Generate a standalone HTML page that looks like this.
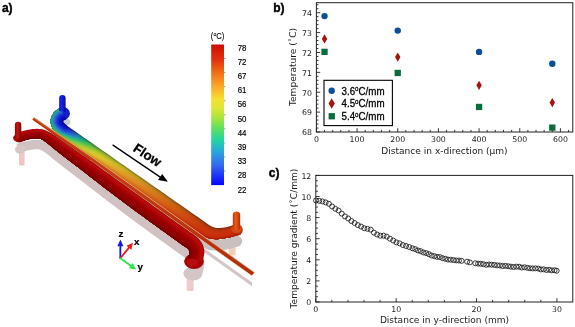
<!DOCTYPE html>
<html><head><meta charset="utf-8"><title>Figure</title>
<style>
html,body{margin:0;padding:0;background:#fff;}
body{width:575px;height:327px;overflow:hidden;position:relative;font-family:"Liberation Sans",sans-serif;}
svg{position:absolute;left:0;top:0;display:block}
.dj{font-family:"DejaVu Sans","Liberation Sans",sans-serif;}
.lib{font-family:"Liberation Sans",sans-serif;}
</style></head><body>
<svg width="575" height="327" viewBox="0 0 575 327">
<rect width="575" height="327" fill="#fff"/>

<g class="lib" font-weight="bold" font-size="12px" fill="#000" stroke="#000" stroke-width="0.4">
<text x="1.9" y="11.8">a)</text><text x="273.2" y="12">b)</text><text x="268.8" y="177">c)</text></g>
<rect x="316.4" y="2.7" width="256.4" height="129.3" fill="none" stroke="#222" stroke-width="1"/>
<path d="M316.40,132.0v-3.8M357.07,132.0v-3.8M397.74,132.0v-3.8M438.41,132.0v-3.8M479.08,132.0v-3.8M519.75,132.0v-3.8M560.42,132.0v-3.8M324.53,132.0v-2.1M332.67,132.0v-2.1M340.80,132.0v-2.1M348.94,132.0v-2.1M365.20,132.0v-2.1M373.34,132.0v-2.1M381.47,132.0v-2.1M389.61,132.0v-2.1M405.87,132.0v-2.1M414.01,132.0v-2.1M422.14,132.0v-2.1M430.28,132.0v-2.1M446.54,132.0v-2.1M454.68,132.0v-2.1M462.81,132.0v-2.1M470.95,132.0v-2.1M487.21,132.0v-2.1M495.35,132.0v-2.1M503.48,132.0v-2.1M511.62,132.0v-2.1M527.88,132.0v-2.1M536.02,132.0v-2.1M544.15,132.0v-2.1M552.29,132.0v-2.1M568.55,132.0v-2.1M316.4,132.00h3.8M316.4,112.12h3.8M316.4,92.24h3.8M316.4,72.36h3.8M316.4,52.48h3.8M316.4,32.60h3.8M316.4,12.72h3.8M316.4,128.02h2.1M316.4,124.05h2.1M316.4,120.07h2.1M316.4,116.10h2.1M316.4,108.14h2.1M316.4,104.17h2.1M316.4,100.19h2.1M316.4,96.22h2.1M316.4,88.26h2.1M316.4,84.29h2.1M316.4,80.31h2.1M316.4,76.34h2.1M316.4,68.38h2.1M316.4,64.41h2.1M316.4,60.43h2.1M316.4,56.46h2.1M316.4,48.50h2.1M316.4,44.53h2.1M316.4,40.55h2.1M316.4,36.58h2.1M316.4,28.62h2.1M316.4,24.65h2.1M316.4,20.67h2.1M316.4,16.70h2.1M316.4,8.74h2.1M316.4,4.77h2.1" stroke="#222" stroke-width="0.9" fill="none"/>
<g class="dj" font-size="7.8px" fill="#1c1c1c">
<text x="316.40" y="142.4" text-anchor="middle">0</text>
<text x="357.07" y="142.4" text-anchor="middle">100</text>
<text x="397.74" y="142.4" text-anchor="middle">200</text>
<text x="438.41" y="142.4" text-anchor="middle">300</text>
<text x="479.08" y="142.4" text-anchor="middle">400</text>
<text x="519.75" y="142.4" text-anchor="middle">500</text>
<text x="560.42" y="142.4" text-anchor="middle">600</text>
<text x="311.9" y="135.30" text-anchor="end">68</text>
<text x="311.9" y="115.42" text-anchor="end">69</text>
<text x="311.9" y="95.54" text-anchor="end">70</text>
<text x="311.9" y="75.66" text-anchor="end">71</text>
<text x="311.9" y="55.78" text-anchor="end">72</text>
<text x="311.9" y="35.90" text-anchor="end">73</text>
<text x="311.9" y="16.02" text-anchor="end">74</text>
</g>
<g class="dj" font-size="9.05px" fill="#1c1c1c">
<text x="444.5" y="153.5" text-anchor="middle">Distance in x-direction (μm)</text>
<text transform="translate(295.9,66.9) rotate(-90)" text-anchor="middle">Temperature (˚C)</text>
</g>
<circle cx="324.53" cy="16.10" r="3.2" fill="#0b4f9c"/>
<circle cx="397.74" cy="30.61" r="3.2" fill="#0b4f9c"/>
<circle cx="479.08" cy="51.88" r="3.2" fill="#0b4f9c"/>
<circle cx="552.29" cy="63.81" r="3.2" fill="#0b4f9c"/>
<path d="M324.53,34.36L327.23,38.96L324.53,43.56L321.83,38.96Z" fill="#a3130f"/>
<path d="M397.74,52.45L400.44,57.05L397.74,61.65L395.04,57.05Z" fill="#a3130f"/>
<path d="M479.08,80.68L481.78,85.28L479.08,89.88L476.38,85.28Z" fill="#a3130f"/>
<path d="M552.29,97.98L554.99,102.58L552.29,107.18L549.59,102.58Z" fill="#a3130f"/>
<rect x="321.38" y="48.73" width="6.3" height="6.3" fill="#0a6e3c"/>
<rect x="394.59" y="69.81" width="6.3" height="6.3" fill="#0a6e3c"/>
<rect x="475.93" y="103.80" width="6.3" height="6.3" fill="#0a6e3c"/>
<rect x="549.14" y="124.48" width="6.3" height="6.3" fill="#0a6e3c"/>
<rect x="324" y="80.3" width="68.4" height="45.3" fill="#fff" stroke="#000" stroke-width="1.1"/>
<circle cx="331.7" cy="90.8" r="3.2" fill="#0b4f9c"/><path d="M331.70,98.30L334.80,103.50L331.70,108.70L328.60,103.50Z" fill="#a3130f"/><rect x="328.6" y="113.1" width="6.3" height="6.3" fill="#0a6e3c"/>
<g class="lib" font-size="10.3px" fill="#000">
<text transform="translate(341.5,94.5) scale(0.95,1)" stroke="#000" stroke-width="0.28">3.6<tspan font-size="6.5px" dy="-3.2">o</tspan><tspan dy="3.2">C/mm</tspan></text>
<text transform="translate(341.5,107.1) scale(0.95,1)" stroke="#000" stroke-width="0.28">4.5<tspan font-size="6.5px" dy="-3.2">o</tspan><tspan dy="3.2">C/mm</tspan></text>
<text transform="translate(341.5,119.9) scale(0.95,1)" stroke="#000" stroke-width="0.28">5.4<tspan font-size="6.5px" dy="-3.2">o</tspan><tspan dy="3.2">C/mm</tspan></text>
</g>
<rect x="315.8" y="175.4" width="256.99999999999994" height="126.6" fill="none" stroke="#222" stroke-width="1"/>
<path d="M315.80,302.0v-3.8M396.17,302.0v-3.8M476.54,302.0v-3.8M556.91,302.0v-3.8M331.87,302.0v-2.1M347.95,302.0v-2.1M364.02,302.0v-2.1M380.10,302.0v-2.1M412.24,302.0v-2.1M428.32,302.0v-2.1M444.39,302.0v-2.1M460.47,302.0v-2.1M492.61,302.0v-2.1M508.69,302.0v-2.1M524.76,302.0v-2.1M540.84,302.0v-2.1M315.8,302.00h3.8M315.8,280.90h3.8M315.8,259.80h3.8M315.8,238.70h3.8M315.8,217.60h3.8M315.8,196.50h3.8M315.8,175.40h3.8M315.8,296.73h2.1M315.8,291.45h2.1M315.8,286.18h2.1M315.8,275.62h2.1M315.8,270.35h2.1M315.8,265.07h2.1M315.8,254.53h2.1M315.8,249.25h2.1M315.8,243.97h2.1M315.8,233.43h2.1M315.8,228.15h2.1M315.8,222.88h2.1M315.8,212.32h2.1M315.8,207.05h2.1M315.8,201.77h2.1M315.8,191.22h2.1M315.8,185.95h2.1M315.8,180.68h2.1" stroke="#222" stroke-width="0.9" fill="none"/>
<g class="dj" font-size="7.8px" fill="#1c1c1c">
<text x="315.80" y="312.4" text-anchor="middle">0</text>
<text x="396.17" y="312.4" text-anchor="middle">10</text>
<text x="476.54" y="312.4" text-anchor="middle">20</text>
<text x="556.91" y="312.4" text-anchor="middle">30</text>
<text x="311.3" y="305.30" text-anchor="end">0</text>
<text x="311.3" y="284.20" text-anchor="end">2</text>
<text x="311.3" y="263.10" text-anchor="end">4</text>
<text x="311.3" y="242.00" text-anchor="end">6</text>
<text x="311.3" y="220.90" text-anchor="end">8</text>
<text x="311.3" y="199.80" text-anchor="end">10</text>
<text x="311.3" y="178.70" text-anchor="end">12</text>
</g>
<g class="dj" font-size="9.05px" fill="#1c1c1c">
<text x="444.5" y="323.2" text-anchor="middle">Distance in y-direction (mm)</text>
<text transform="translate(296.5,238.5) rotate(-90)" text-anchor="middle">Temperature gradient (˚C/mm)</text>
</g>
<g fill="none" stroke="#1a1a1a" stroke-width="0.85">
<circle cx="316.04" cy="200.53" r="2.5"/>
<circle cx="319.26" cy="200.78" r="2.5"/>
<circle cx="322.47" cy="201.43" r="2.5"/>
<circle cx="325.69" cy="202.42" r="2.5"/>
<circle cx="328.90" cy="203.77" r="2.5"/>
<circle cx="332.12" cy="206.49" r="2.5"/>
<circle cx="335.33" cy="208.83" r="2.5"/>
<circle cx="338.54" cy="210.52" r="2.5"/>
<circle cx="341.76" cy="213.63" r="2.5"/>
<circle cx="344.97" cy="216.38" r="2.5"/>
<circle cx="348.19" cy="218.47" r="2.5"/>
<circle cx="351.40" cy="221.08" r="2.5"/>
<circle cx="354.62" cy="223.03" r="2.5"/>
<circle cx="357.83" cy="225.05" r="2.5"/>
<circle cx="361.05" cy="226.57" r="2.5"/>
<circle cx="364.26" cy="228.27" r="2.5"/>
<circle cx="367.48" cy="228.84" r="2.5"/>
<circle cx="370.69" cy="229.63" r="2.5"/>
<circle cx="373.91" cy="232.63" r="2.5"/>
<circle cx="377.12" cy="234.50" r="2.5"/>
<circle cx="380.34" cy="235.74" r="2.5"/>
<circle cx="383.55" cy="235.67" r="2.5"/>
<circle cx="386.77" cy="236.64" r="2.5"/>
<circle cx="389.98" cy="238.73" r="2.5"/>
<circle cx="393.20" cy="240.56" r="2.5"/>
<circle cx="396.41" cy="242.37" r="2.5"/>
<circle cx="399.63" cy="243.36" r="2.5"/>
<circle cx="402.84" cy="245.02" r="2.5"/>
<circle cx="406.06" cy="246.00" r="2.5"/>
<circle cx="409.27" cy="247.03" r="2.5"/>
<circle cx="412.49" cy="248.30" r="2.5"/>
<circle cx="415.22" cy="249.11" r="2.5"/>
<circle cx="417.95" cy="250.47" r="2.5"/>
<circle cx="420.68" cy="251.16" r="2.5"/>
<circle cx="423.42" cy="252.44" r="2.5"/>
<circle cx="426.15" cy="253.10" r="2.5"/>
<circle cx="428.88" cy="254.16" r="2.5"/>
<circle cx="431.61" cy="255.49" r="2.5"/>
<circle cx="434.35" cy="256.20" r="2.5"/>
<circle cx="437.08" cy="256.87" r="2.5"/>
<circle cx="439.81" cy="257.05" r="2.5"/>
<circle cx="442.54" cy="258.18" r="2.5"/>
<circle cx="445.28" cy="258.77" r="2.5"/>
<circle cx="448.01" cy="259.55" r="2.5"/>
<circle cx="450.74" cy="259.70" r="2.5"/>
<circle cx="453.47" cy="260.09" r="2.5"/>
<circle cx="456.21" cy="260.41" r="2.5"/>
<circle cx="458.94" cy="260.54" r="2.5"/>
<circle cx="461.67" cy="260.87" r="2.5"/>
<circle cx="467.14" cy="261.69" r="2.5"/>
<circle cx="469.87" cy="262.38" r="2.5"/>
<circle cx="475.33" cy="263.26" r="2.5"/>
<circle cx="478.07" cy="263.67" r="2.5"/>
<circle cx="480.80" cy="263.78" r="2.5"/>
<circle cx="483.53" cy="264.23" r="2.5"/>
<circle cx="486.26" cy="264.82" r="2.5"/>
<circle cx="489.00" cy="264.52" r="2.5"/>
<circle cx="491.73" cy="264.66" r="2.5"/>
<circle cx="494.46" cy="264.92" r="2.5"/>
<circle cx="497.20" cy="265.38" r="2.5"/>
<circle cx="499.93" cy="265.49" r="2.5"/>
<circle cx="502.66" cy="266.08" r="2.5"/>
<circle cx="505.39" cy="265.84" r="2.5"/>
<circle cx="508.13" cy="266.24" r="2.5"/>
<circle cx="510.86" cy="266.66" r="2.5"/>
<circle cx="513.59" cy="267.02" r="2.5"/>
<circle cx="516.32" cy="266.63" r="2.5"/>
<circle cx="519.06" cy="266.73" r="2.5"/>
<circle cx="521.79" cy="267.59" r="2.5"/>
<circle cx="524.52" cy="267.26" r="2.5"/>
<circle cx="527.25" cy="267.81" r="2.5"/>
<circle cx="529.99" cy="268.27" r="2.5"/>
<circle cx="532.72" cy="268.44" r="2.5"/>
<circle cx="535.45" cy="268.36" r="2.5"/>
<circle cx="538.18" cy="268.55" r="2.5"/>
<circle cx="540.92" cy="269.43" r="2.5"/>
<circle cx="543.65" cy="269.29" r="2.5"/>
<circle cx="546.38" cy="270.00" r="2.5"/>
<circle cx="549.11" cy="269.79" r="2.5"/>
<circle cx="551.85" cy="270.37" r="2.5"/>
<circle cx="554.58" cy="270.25" r="2.5"/>
<circle cx="556.67" cy="270.77" r="2.5"/>
</g>
<defs><linearGradient id="cb" x1="0" y1="0" x2="0" y2="1">
<stop offset="0.000" stop-color="#cc0c04"/><stop offset="0.110" stop-color="#e2320c"/><stop offset="0.200" stop-color="#f06e16"/><stop offset="0.300" stop-color="#faaa28"/><stop offset="0.390" stop-color="#f6e030"/><stop offset="0.450" stop-color="#dee634"/><stop offset="0.520" stop-color="#a8e63c"/><stop offset="0.600" stop-color="#5ae060"/><stop offset="0.680" stop-color="#22d4a0"/><stop offset="0.760" stop-color="#28a8dc"/><stop offset="0.860" stop-color="#3468f0"/><stop offset="1.000" stop-color="#0404fc"/></linearGradient></defs>
<rect x="211.2" y="44.5" width="12.8" height="140.6" fill="url(#cb)"/>
<g class="lib" font-size="9.2px" fill="#000" stroke="#000" stroke-width="0.2">
<text transform="translate(217.6,39.2) scale(0.86,1)" text-anchor="middle" font-size="9px" stroke-width="0.1">(<tspan font-size="6px" dy="-3">o</tspan><tspan dy="3">C)</tspan></text>
<text transform="translate(237.7,50.50) scale(0.85,1)">78</text>
<text transform="translate(237.7,64.70) scale(0.85,1)">72</text>
<text transform="translate(237.7,78.90) scale(0.85,1)">67</text>
<text transform="translate(237.7,93.10) scale(0.85,1)">61</text>
<text transform="translate(237.7,107.30) scale(0.85,1)">56</text>
<text transform="translate(237.7,121.50) scale(0.85,1)">50</text>
<text transform="translate(237.7,135.70) scale(0.85,1)">44</text>
<text transform="translate(237.7,149.90) scale(0.85,1)">39</text>
<text transform="translate(237.7,164.10) scale(0.85,1)">33</text>
<text transform="translate(237.7,178.30) scale(0.85,1)">28</text>
<text transform="translate(237.7,192.50) scale(0.85,1)">22</text>
</g>
<path d="M224,58.56h1.4M224,72.62h1.4M224,86.68h1.4M224,100.74h1.4M224,114.80h1.4M224,128.86h1.4M224,142.92h1.4M224,156.98h1.4M224,171.04h1.4" stroke="#555" stroke-width="0.6"/>
<defs><filter id="bl1" x="-5%" y="-5%" width="110%" height="110%"><feGaussianBlur stdDeviation="0.6"/></filter><linearGradient id="g1" gradientUnits="userSpaceOnUse" x1="80.21" y1="56.07" x2="284.33" y2="198.75"><stop offset="0.0000" stop-color="#02028c"/><stop offset="0.0294" stop-color="#02028c"/><stop offset="0.0588" stop-color="#03038c"/><stop offset="0.0882" stop-color="#04068b"/><stop offset="0.1176" stop-color="#06098b"/><stop offset="0.1471" stop-color="#172d87"/><stop offset="0.1765" stop-color="#17597b"/><stop offset="0.2059" stop-color="#13735c"/><stop offset="0.2353" stop-color="#297a3f"/><stop offset="0.2647" stop-color="#407d2f"/><stop offset="0.2941" stop-color="#577f24"/><stop offset="0.3235" stop-color="#668020"/><stop offset="0.3529" stop-color="#73801e"/><stop offset="0.3824" stop-color="#7d7f1d"/><stop offset="0.4118" stop-color="#837e1c"/><stop offset="0.4412" stop-color="#887c1b"/><stop offset="0.4706" stop-color="#89761a"/><stop offset="0.5000" stop-color="#8a6f19"/><stop offset="0.5294" stop-color="#8a6818"/><stop offset="0.5588" stop-color="#8b6117"/><stop offset="0.5882" stop-color="#8a5a15"/><stop offset="0.6176" stop-color="#895313"/><stop offset="0.6471" stop-color="#884c11"/><stop offset="0.6765" stop-color="#87450f"/><stop offset="0.7059" stop-color="#853e0d"/><stop offset="0.7353" stop-color="#84380b"/><stop offset="0.7647" stop-color="#83320a"/><stop offset="0.7941" stop-color="#812d09"/><stop offset="0.8235" stop-color="#812b09"/><stop offset="0.8529" stop-color="#812909"/><stop offset="0.8824" stop-color="#802709"/><stop offset="0.9118" stop-color="#802608"/><stop offset="0.9412" stop-color="#7f2408"/><stop offset="0.9706" stop-color="#7f2208"/><stop offset="1.0000" stop-color="#7f2007"/></linearGradient><linearGradient id="g2" gradientUnits="userSpaceOnUse" x1="80.21" y1="56.07" x2="284.33" y2="198.75"><stop offset="0.0000" stop-color="#0303af"/><stop offset="0.0294" stop-color="#0303af"/><stop offset="0.0588" stop-color="#0405af"/><stop offset="0.0882" stop-color="#0609ae"/><stop offset="0.1176" stop-color="#080dae"/><stop offset="0.1471" stop-color="#1d3aa9"/><stop offset="0.1765" stop-color="#1c719a"/><stop offset="0.2059" stop-color="#189370"/><stop offset="0.2353" stop-color="#389a4a"/><stop offset="0.2647" stop-color="#5b9e36"/><stop offset="0.2941" stop-color="#7ba029"/><stop offset="0.3235" stop-color="#8ba026"/><stop offset="0.3529" stop-color="#9aa024"/><stop offset="0.3824" stop-color="#a29e23"/><stop offset="0.4118" stop-color="#a99c22"/><stop offset="0.4412" stop-color="#ab9620"/><stop offset="0.4706" stop-color="#ac8d1f"/><stop offset="0.5000" stop-color="#ad851e"/><stop offset="0.5294" stop-color="#ad7d1d"/><stop offset="0.5588" stop-color="#ad741b"/><stop offset="0.5882" stop-color="#ac6c19"/><stop offset="0.6176" stop-color="#ab6416"/><stop offset="0.6471" stop-color="#a95c14"/><stop offset="0.6765" stop-color="#a85311"/><stop offset="0.7059" stop-color="#a64b0f"/><stop offset="0.7353" stop-color="#a5430e"/><stop offset="0.7647" stop-color="#a33b0c"/><stop offset="0.7941" stop-color="#a1360b"/><stop offset="0.8235" stop-color="#a1330b"/><stop offset="0.8529" stop-color="#a0310b"/><stop offset="0.8824" stop-color="#a02f0a"/><stop offset="0.9118" stop-color="#9f2d0a"/><stop offset="0.9412" stop-color="#9f2b0a"/><stop offset="0.9706" stop-color="#9e2909"/><stop offset="1.0000" stop-color="#9e2609"/></linearGradient><linearGradient id="g3" gradientUnits="userSpaceOnUse" x1="80.21" y1="56.07" x2="284.33" y2="198.75"><stop offset="0.0000" stop-color="#0405c3"/><stop offset="0.0294" stop-color="#0406c3"/><stop offset="0.0588" stop-color="#0507c3"/><stop offset="0.0882" stop-color="#080dc3"/><stop offset="0.1176" stop-color="#0b13c2"/><stop offset="0.1471" stop-color="#2346bc"/><stop offset="0.1765" stop-color="#1f84a9"/><stop offset="0.2059" stop-color="#20a675"/><stop offset="0.2353" stop-color="#48ae49"/><stop offset="0.2647" stop-color="#75b235"/><stop offset="0.2941" stop-color="#98b32b"/><stop offset="0.3235" stop-color="#a9b329"/><stop offset="0.3529" stop-color="#b3b127"/><stop offset="0.3824" stop-color="#bbaf26"/><stop offset="0.4118" stop-color="#bfa925"/><stop offset="0.4412" stop-color="#c09f23"/><stop offset="0.4706" stop-color="#c19622"/><stop offset="0.5000" stop-color="#c18d20"/><stop offset="0.5294" stop-color="#c2851f"/><stop offset="0.5588" stop-color="#c17c1d"/><stop offset="0.5882" stop-color="#bf731a"/><stop offset="0.6176" stop-color="#be6a17"/><stop offset="0.6471" stop-color="#bc6215"/><stop offset="0.6765" stop-color="#bb5912"/><stop offset="0.7059" stop-color="#b95010"/><stop offset="0.7353" stop-color="#b7470f"/><stop offset="0.7647" stop-color="#b53f0d"/><stop offset="0.7941" stop-color="#b4390c"/><stop offset="0.8235" stop-color="#b3370c"/><stop offset="0.8529" stop-color="#b3340c"/><stop offset="0.8824" stop-color="#b2320b"/><stop offset="0.9118" stop-color="#b2300b"/><stop offset="0.9412" stop-color="#b12d0a"/><stop offset="0.9706" stop-color="#b02b0a"/><stop offset="1.0000" stop-color="#b0290a"/></linearGradient><linearGradient id="g4" gradientUnits="userSpaceOnUse" x1="80.21" y1="56.07" x2="284.33" y2="198.75"><stop offset="0.0000" stop-color="#070bcf"/><stop offset="0.0294" stop-color="#070bcf"/><stop offset="0.0588" stop-color="#080ecf"/><stop offset="0.0882" stop-color="#0c15ce"/><stop offset="0.1176" stop-color="#101ecd"/><stop offset="0.1471" stop-color="#2b55c6"/><stop offset="0.1765" stop-color="#2095a8"/><stop offset="0.2059" stop-color="#2fb36f"/><stop offset="0.2353" stop-color="#5fbb46"/><stop offset="0.2647" stop-color="#8fbe31"/><stop offset="0.2941" stop-color="#b3be2c"/><stop offset="0.3235" stop-color="#bebc2a"/><stop offset="0.3529" stop-color="#c6ba29"/><stop offset="0.3824" stop-color="#cbb527"/><stop offset="0.4118" stop-color="#ccaa25"/><stop offset="0.4412" stop-color="#cda024"/><stop offset="0.4706" stop-color="#ce9723"/><stop offset="0.5000" stop-color="#ce8e21"/><stop offset="0.5294" stop-color="#cd851f"/><stop offset="0.5588" stop-color="#cc7d1c"/><stop offset="0.5882" stop-color="#ca741a"/><stop offset="0.6176" stop-color="#c96b17"/><stop offset="0.6471" stop-color="#c76314"/><stop offset="0.6765" stop-color="#c65a12"/><stop offset="0.7059" stop-color="#c45010"/><stop offset="0.7353" stop-color="#c2480f"/><stop offset="0.7647" stop-color="#c0400e"/><stop offset="0.7941" stop-color="#be3a0d"/><stop offset="0.8235" stop-color="#be370c"/><stop offset="0.8529" stop-color="#bd350c"/><stop offset="0.8824" stop-color="#bd320b"/><stop offset="0.9118" stop-color="#bc300b"/><stop offset="0.9412" stop-color="#bc2d0b"/><stop offset="0.9706" stop-color="#bb2b0a"/><stop offset="1.0000" stop-color="#ba290a"/></linearGradient><linearGradient id="g5" gradientUnits="userSpaceOnUse" x1="80.21" y1="56.07" x2="284.33" y2="198.75"><stop offset="0.0000" stop-color="#0c15d7"/><stop offset="0.0294" stop-color="#0c16d6"/><stop offset="0.0588" stop-color="#0e19d6"/><stop offset="0.0882" stop-color="#1324d5"/><stop offset="0.1176" stop-color="#1930d3"/><stop offset="0.1471" stop-color="#2a68ca"/><stop offset="0.1765" stop-color="#1fa79e"/><stop offset="0.2059" stop-color="#41be61"/><stop offset="0.2353" stop-color="#7ac43e"/><stop offset="0.2647" stop-color="#a7c630"/><stop offset="0.2941" stop-color="#c5c42c"/><stop offset="0.3235" stop-color="#cec22a"/><stop offset="0.3529" stop-color="#d4be29"/><stop offset="0.3824" stop-color="#d5b227"/><stop offset="0.4118" stop-color="#d5a725"/><stop offset="0.4412" stop-color="#d69e24"/><stop offset="0.4706" stop-color="#d79523"/><stop offset="0.5000" stop-color="#d68c21"/><stop offset="0.5294" stop-color="#d5831e"/><stop offset="0.5588" stop-color="#d37b1b"/><stop offset="0.5882" stop-color="#d27219"/><stop offset="0.6176" stop-color="#d06a16"/><stop offset="0.6471" stop-color="#cf6114"/><stop offset="0.6765" stop-color="#cd5912"/><stop offset="0.7059" stop-color="#cb4f10"/><stop offset="0.7353" stop-color="#c9470f"/><stop offset="0.7647" stop-color="#c73f0e"/><stop offset="0.7941" stop-color="#c6390d"/><stop offset="0.8235" stop-color="#c5360c"/><stop offset="0.8529" stop-color="#c4340c"/><stop offset="0.8824" stop-color="#c4320b"/><stop offset="0.9118" stop-color="#c32f0b"/><stop offset="0.9412" stop-color="#c32d0b"/><stop offset="0.9706" stop-color="#c22b0a"/><stop offset="1.0000" stop-color="#c1290a"/></linearGradient><linearGradient id="g6" gradientUnits="userSpaceOnUse" x1="80.21" y1="56.07" x2="284.33" y2="198.75"><stop offset="0.0000" stop-color="#1425da"/><stop offset="0.0294" stop-color="#1527da"/><stop offset="0.0588" stop-color="#172bd9"/><stop offset="0.0882" stop-color="#1d3ad7"/><stop offset="0.1176" stop-color="#254ad5"/><stop offset="0.1471" stop-color="#2781c8"/><stop offset="0.1765" stop-color="#20bb8b"/><stop offset="0.2059" stop-color="#59c650"/><stop offset="0.2353" stop-color="#96ca35"/><stop offset="0.2647" stop-color="#bdca2f"/><stop offset="0.2941" stop-color="#d3c72b"/><stop offset="0.3235" stop-color="#d9c22a"/><stop offset="0.3529" stop-color="#dab728"/><stop offset="0.3824" stop-color="#daac27"/><stop offset="0.4118" stop-color="#dba125"/><stop offset="0.4412" stop-color="#dc9824"/><stop offset="0.4706" stop-color="#db9021"/><stop offset="0.5000" stop-color="#da871f"/><stop offset="0.5294" stop-color="#d87f1c"/><stop offset="0.5588" stop-color="#d7771a"/><stop offset="0.5882" stop-color="#d56e17"/><stop offset="0.6176" stop-color="#d46715"/><stop offset="0.6471" stop-color="#d35e13"/><stop offset="0.6765" stop-color="#d15612"/><stop offset="0.7059" stop-color="#cf4d10"/><stop offset="0.7353" stop-color="#cd450f"/><stop offset="0.7647" stop-color="#cb3d0d"/><stop offset="0.7941" stop-color="#ca370c"/><stop offset="0.8235" stop-color="#c9350c"/><stop offset="0.8529" stop-color="#c8320c"/><stop offset="0.8824" stop-color="#c8300b"/><stop offset="0.9118" stop-color="#c72e0b"/><stop offset="0.9412" stop-color="#c72c0a"/><stop offset="0.9706" stop-color="#c62a0a"/><stop offset="1.0000" stop-color="#c5290a"/></linearGradient><linearGradient id="g7" gradientUnits="userSpaceOnUse" x1="80.21" y1="56.07" x2="284.33" y2="198.75"><stop offset="0.0000" stop-color="#1f3ddc"/><stop offset="0.0294" stop-color="#2140dc"/><stop offset="0.0588" stop-color="#2346db"/><stop offset="0.0882" stop-color="#2c58d9"/><stop offset="0.1176" stop-color="#2c6bd4"/><stop offset="0.1471" stop-color="#239fbb"/><stop offset="0.1765" stop-color="#3bc56f"/><stop offset="0.2059" stop-color="#7bcd43"/><stop offset="0.2353" stop-color="#b0cf32"/><stop offset="0.2647" stop-color="#cfcd2e"/><stop offset="0.2941" stop-color="#dec52a"/><stop offset="0.3235" stop-color="#dfba29"/><stop offset="0.3529" stop-color="#dfaf27"/><stop offset="0.3824" stop-color="#e0a526"/><stop offset="0.4118" stop-color="#e19b24"/><stop offset="0.4412" stop-color="#e09222"/><stop offset="0.4706" stop-color="#df8a20"/><stop offset="0.5000" stop-color="#dd821d"/><stop offset="0.5294" stop-color="#dc7a1b"/><stop offset="0.5588" stop-color="#db7318"/><stop offset="0.5882" stop-color="#d96b16"/><stop offset="0.6176" stop-color="#d86314"/><stop offset="0.6471" stop-color="#d65b12"/><stop offset="0.6765" stop-color="#d45311"/><stop offset="0.7059" stop-color="#d24a10"/><stop offset="0.7353" stop-color="#d0430e"/><stop offset="0.7647" stop-color="#cf3b0d"/><stop offset="0.7941" stop-color="#cd360c"/><stop offset="0.8235" stop-color="#cd330c"/><stop offset="0.8529" stop-color="#cc310b"/><stop offset="0.8824" stop-color="#cc2e0b"/><stop offset="0.9118" stop-color="#cb2c0b"/><stop offset="0.9412" stop-color="#ca2b0a"/><stop offset="0.9706" stop-color="#ca2a0a"/><stop offset="1.0000" stop-color="#c9290a"/></linearGradient><linearGradient id="g8" gradientUnits="userSpaceOnUse" x1="80.21" y1="56.07" x2="284.33" y2="198.75"><stop offset="0.0000" stop-color="#2e5bd6"/><stop offset="0.0294" stop-color="#2e5fd5"/><stop offset="0.0588" stop-color="#2d66d3"/><stop offset="0.0882" stop-color="#297acd"/><stop offset="0.1176" stop-color="#2590c6"/><stop offset="0.1471" stop-color="#1ebc8f"/><stop offset="0.1765" stop-color="#5dc84f"/><stop offset="0.2059" stop-color="#9dcd34"/><stop offset="0.2353" stop-color="#c6cd2e"/><stop offset="0.2647" stop-color="#d7c82b"/><stop offset="0.2941" stop-color="#dcb628"/><stop offset="0.3235" stop-color="#ddac27"/><stop offset="0.3529" stop-color="#dea225"/><stop offset="0.3824" stop-color="#de9924"/><stop offset="0.4118" stop-color="#dd9021"/><stop offset="0.4412" stop-color="#dc881f"/><stop offset="0.4706" stop-color="#db811d"/><stop offset="0.5000" stop-color="#d9791b"/><stop offset="0.5294" stop-color="#d87218"/><stop offset="0.5588" stop-color="#d76b16"/><stop offset="0.5882" stop-color="#d66314"/><stop offset="0.6176" stop-color="#d45c13"/><stop offset="0.6471" stop-color="#d25411"/><stop offset="0.6765" stop-color="#d14d10"/><stop offset="0.7059" stop-color="#cf450f"/><stop offset="0.7353" stop-color="#cd3e0e"/><stop offset="0.7647" stop-color="#cc380d"/><stop offset="0.7941" stop-color="#ca320c"/><stop offset="0.8235" stop-color="#ca300b"/><stop offset="0.8529" stop-color="#c92e0b"/><stop offset="0.8824" stop-color="#c92c0b"/><stop offset="0.9118" stop-color="#c82b0a"/><stop offset="0.9412" stop-color="#c7290a"/><stop offset="0.9706" stop-color="#c7280a"/><stop offset="1.0000" stop-color="#c6270a"/></linearGradient><linearGradient id="g9" gradientUnits="userSpaceOnUse" x1="80.21" y1="56.07" x2="284.33" y2="198.75"><stop offset="0.0000" stop-color="#2879ca"/><stop offset="0.0294" stop-color="#277ec9"/><stop offset="0.0588" stop-color="#2686c6"/><stop offset="0.0882" stop-color="#229bb8"/><stop offset="0.1176" stop-color="#1fb19a"/><stop offset="0.1471" stop-color="#45c360"/><stop offset="0.1765" stop-color="#88ca3b"/><stop offset="0.2059" stop-color="#b7cb30"/><stop offset="0.2353" stop-color="#d0c82c"/><stop offset="0.2647" stop-color="#d9bd29"/><stop offset="0.2941" stop-color="#dba926"/><stop offset="0.3235" stop-color="#dca025"/><stop offset="0.3529" stop-color="#dc9723"/><stop offset="0.3824" stop-color="#db8f21"/><stop offset="0.4118" stop-color="#da871f"/><stop offset="0.4412" stop-color="#d97f1c"/><stop offset="0.4706" stop-color="#d7781a"/><stop offset="0.5000" stop-color="#d67218"/><stop offset="0.5294" stop-color="#d56b16"/><stop offset="0.5588" stop-color="#d46414"/><stop offset="0.5882" stop-color="#d35d13"/><stop offset="0.6176" stop-color="#d15612"/><stop offset="0.6471" stop-color="#cf4f10"/><stop offset="0.6765" stop-color="#ce480f"/><stop offset="0.7059" stop-color="#cc410e"/><stop offset="0.7353" stop-color="#cb3b0d"/><stop offset="0.7647" stop-color="#c9340c"/><stop offset="0.7941" stop-color="#c82f0b"/><stop offset="0.8235" stop-color="#c72d0b"/><stop offset="0.8529" stop-color="#c72b0a"/><stop offset="0.8824" stop-color="#c62a0a"/><stop offset="0.9118" stop-color="#c5290a"/><stop offset="0.9412" stop-color="#c5280a"/><stop offset="0.9706" stop-color="#c42709"/><stop offset="1.0000" stop-color="#c32609"/></linearGradient><linearGradient id="g10" gradientUnits="userSpaceOnUse" x1="80.21" y1="56.07" x2="284.33" y2="198.75"><stop offset="0.0000" stop-color="#2191b4"/><stop offset="0.0294" stop-color="#2096ac"/><stop offset="0.0588" stop-color="#1f9da3"/><stop offset="0.0882" stop-color="#1db286"/><stop offset="0.1176" stop-color="#39b865"/><stop offset="0.1471" stop-color="#71bf3f"/><stop offset="0.1765" stop-color="#a3c12f"/><stop offset="0.2059" stop-color="#c1c02b"/><stop offset="0.2353" stop-color="#cfba28"/><stop offset="0.2647" stop-color="#d0a825"/><stop offset="0.2941" stop-color="#d19823"/><stop offset="0.3235" stop-color="#d29022"/><stop offset="0.3529" stop-color="#d18920"/><stop offset="0.3824" stop-color="#d0811e"/><stop offset="0.4118" stop-color="#cf7a1b"/><stop offset="0.4412" stop-color="#cd7319"/><stop offset="0.4706" stop-color="#cc6d17"/><stop offset="0.5000" stop-color="#cb6716"/><stop offset="0.5294" stop-color="#ca6114"/><stop offset="0.5588" stop-color="#c95b12"/><stop offset="0.5882" stop-color="#c85411"/><stop offset="0.6176" stop-color="#c64e10"/><stop offset="0.6471" stop-color="#c5480f"/><stop offset="0.6765" stop-color="#c3420e"/><stop offset="0.7059" stop-color="#c23b0d"/><stop offset="0.7353" stop-color="#c1360c"/><stop offset="0.7647" stop-color="#bf300b"/><stop offset="0.7941" stop-color="#be2b0a"/><stop offset="0.8235" stop-color="#be2a0a"/><stop offset="0.8529" stop-color="#bd280a"/><stop offset="0.8824" stop-color="#bc270a"/><stop offset="0.9118" stop-color="#bc2609"/><stop offset="0.9412" stop-color="#bb2509"/><stop offset="0.9706" stop-color="#ba2409"/><stop offset="1.0000" stop-color="#ba2309"/></linearGradient><linearGradient id="g11" gradientUnits="userSpaceOnUse" x1="80.21" y1="56.07" x2="284.33" y2="198.75"><stop offset="0.0000" stop-color="#1ca18b"/><stop offset="0.0294" stop-color="#1ba883"/><stop offset="0.0588" stop-color="#22ab78"/><stop offset="0.0882" stop-color="#3eb159"/><stop offset="0.1176" stop-color="#62b541"/><stop offset="0.1471" stop-color="#95b82e"/><stop offset="0.1765" stop-color="#b4b729"/><stop offset="0.2059" stop-color="#c2b427"/><stop offset="0.2353" stop-color="#c6a524"/><stop offset="0.2647" stop-color="#c79722"/><stop offset="0.2941" stop-color="#c88a20"/><stop offset="0.3235" stop-color="#c7831e"/><stop offset="0.3529" stop-color="#c67c1c"/><stop offset="0.3824" stop-color="#c5761b"/><stop offset="0.4118" stop-color="#c46f19"/><stop offset="0.4412" stop-color="#c36917"/><stop offset="0.4706" stop-color="#c26315"/><stop offset="0.5000" stop-color="#c15e13"/><stop offset="0.5294" stop-color="#c05812"/><stop offset="0.5588" stop-color="#bf5211"/><stop offset="0.5882" stop-color="#bd4c10"/><stop offset="0.6176" stop-color="#bc470f"/><stop offset="0.6471" stop-color="#bb410e"/><stop offset="0.6765" stop-color="#b93c0d"/><stop offset="0.7059" stop-color="#b8360c"/><stop offset="0.7353" stop-color="#b7310b"/><stop offset="0.7647" stop-color="#b62c0a"/><stop offset="0.7941" stop-color="#b5280a"/><stop offset="0.8235" stop-color="#b42709"/><stop offset="0.8529" stop-color="#b42609"/><stop offset="0.8824" stop-color="#b32509"/><stop offset="0.9118" stop-color="#b22409"/><stop offset="0.9412" stop-color="#b22308"/><stop offset="0.9706" stop-color="#b12208"/><stop offset="1.0000" stop-color="#b12108"/></linearGradient><linearGradient id="g12" gradientUnits="userSpaceOnUse" x1="80.21" y1="56.07" x2="284.33" y2="198.75"><stop offset="0.0000" stop-color="#26965f"/><stop offset="0.0294" stop-color="#2e9855"/><stop offset="0.0588" stop-color="#369a4c"/><stop offset="0.0882" stop-color="#569d37"/><stop offset="0.1176" stop-color="#7a9f29"/><stop offset="0.1471" stop-color="#9b9f24"/><stop offset="0.1765" stop-color="#a69c22"/><stop offset="0.2059" stop-color="#ab9320"/><stop offset="0.2353" stop-color="#ac861e"/><stop offset="0.2647" stop-color="#ad7c1d"/><stop offset="0.2941" stop-color="#ad721b"/><stop offset="0.3235" stop-color="#ac6d19"/><stop offset="0.3529" stop-color="#ab6817"/><stop offset="0.3824" stop-color="#aa6216"/><stop offset="0.4118" stop-color="#a95d14"/><stop offset="0.4412" stop-color="#a85813"/><stop offset="0.4706" stop-color="#a85311"/><stop offset="0.5000" stop-color="#a74e10"/><stop offset="0.5294" stop-color="#a64a0f"/><stop offset="0.5588" stop-color="#a5450e"/><stop offset="0.5882" stop-color="#a33f0d"/><stop offset="0.6176" stop-color="#a23b0c"/><stop offset="0.6471" stop-color="#a1370c"/><stop offset="0.6765" stop-color="#a0320b"/><stop offset="0.7059" stop-color="#9f2e0a"/><stop offset="0.7353" stop-color="#9e2909"/><stop offset="0.7647" stop-color="#9d2509"/><stop offset="0.7941" stop-color="#9c2208"/><stop offset="0.8235" stop-color="#9c2108"/><stop offset="0.8529" stop-color="#9b2008"/><stop offset="0.8824" stop-color="#9b1f08"/><stop offset="0.9118" stop-color="#9a1f07"/><stop offset="0.9412" stop-color="#9a1e07"/><stop offset="0.9706" stop-color="#991d07"/><stop offset="1.0000" stop-color="#991c07"/></linearGradient><linearGradient id="stb" x1="0" y1="0" x2="1" y2="0"><stop offset="0" stop-color="#0a10a8"/><stop offset="0.35" stop-color="#1424ee"/><stop offset="0.7" stop-color="#0c14d0"/><stop offset="1" stop-color="#060a90"/></linearGradient><linearGradient id="sto" x1="0" y1="0" x2="1" y2="0"><stop offset="0" stop-color="#b83408"/><stop offset="0.35" stop-color="#e85a1c"/><stop offset="0.7" stop-color="#d8440e"/><stop offset="1" stop-color="#a82c06"/></linearGradient><linearGradient id="strp" gradientUnits="userSpaceOnUse" x1="33" y1="117" x2="254" y2="270"><stop offset="0" stop-color="#c8420e"/><stop offset="0.5" stop-color="#c63a0c"/><stop offset="1" stop-color="#b42e08"/></linearGradient><linearGradient id="str" x1="0" y1="0" x2="1" y2="0"><stop offset="0" stop-color="#8a0404"/><stop offset="0.35" stop-color="#c81212"/><stop offset="0.7" stop-color="#aa0808"/><stop offset="1" stop-color="#7a0202"/></linearGradient></defs>
<g filter="url(#bl1)">
<rect x="19" y="150" width="5.6" height="15.5" rx="1.5" fill="#f0c6c6"/>
<rect x="186.7" y="276" width="7" height="15" rx="1.5" fill="#f2cccc"/>
<rect x="228.8" y="240" width="6.8" height="15.6" rx="1.5" fill="#f2ccbc"/>
<path d="M16.52,144.04L18.35,143.44L20.21,142.84L22.11,142.26L24.05,141.72L26.05,141.21L28.10,140.77L30.21,140.39L32.39,140.09L34.63,139.89L37.05,139.80L39.73,139.88L42.33,140.28L44.79,140.97L47.09,141.88L49.24,142.97L51.29,144.19L53.26,145.50L55.21,146.87L58.68,149.30L62.10,151.69L65.48,154.05L68.86,156.41L72.26,158.79L75.66,161.17L79.07,163.55L82.49,165.95L85.90,168.33L89.31,170.72L92.73,173.11L96.15,175.55L99.55,178.01L102.95,180.46L106.34,182.90L109.73,185.35L113.11,187.79L116.48,190.22L119.85,192.65L123.22,195.08L126.60,197.52L129.98,199.96L133.35,202.39L136.72,204.82L140.06,207.24L143.40,209.66L146.75,212.09L150.10,214.52L153.44,216.94L156.79,219.33L160.15,221.72L163.50,224.11L166.86,226.49L170.22,228.88L173.57,231.27L176.93,233.66L180.29,236.05L183.65,238.44L187.01,240.83L190.28,243.15L191.76,244.11L193.56,245.34L195.41,246.71L197.25,248.26L199.06,250.05L200.75,252.14L202.24,254.55L203.42,257.30L204.16,260.32L204.39,263.91L203.88,266.83L203.51,268.70L203.13,270.58L202.76,272.45L188.24,269.55L188.62,267.67L188.99,265.80L189.37,263.92L189.61,263.09L189.52,262.67L189.35,262.04L189.08,261.46L188.67,260.84L188.07,260.13L187.24,259.33L186.20,258.48L184.95,257.58L183.53,256.64L181.72,255.48L178.29,252.98L174.95,250.57L171.61,248.16L168.27,245.75L164.93,243.34L161.58,240.93L158.24,238.52L154.90,236.11L151.55,233.68L148.21,231.25L144.86,228.81L141.50,226.37L138.15,223.94L134.80,221.51L131.44,219.06L128.08,216.57L124.75,214.05L121.42,211.55L118.10,209.04L114.78,206.53L111.45,204.02L108.12,201.51L104.79,198.97L101.47,196.40L98.16,193.84L94.85,191.27L91.55,188.71L88.25,186.15L84.97,183.61L81.69,181.06L78.40,178.51L75.11,175.96L71.83,173.42L68.54,170.91L65.24,168.40L61.94,165.89L58.62,163.36L55.30,160.74L52.02,158.03L48.79,155.35L47.07,153.96L45.50,152.75L44.04,151.71L42.66,150.87L41.34,150.21L40.01,149.71L38.60,149.37L36.95,149.20L35.23,149.27L33.44,149.43L31.67,149.67L29.93,149.99L28.20,150.36L26.47,150.80L24.75,151.28L23.01,151.81L21.26,152.37L19.48,152.96Z" fill="#d1c1c1" opacity="1"/>
<path d="M66.20,130.80L65.36,131.19L64.78,131.51L64.30,131.82L63.94,132.11L63.69,132.35L63.54,132.53L63.47,132.64L63.44,132.72L63.41,132.81L63.40,132.87L63.36,132.96L63.35,133.04L63.48,133.36L63.84,133.92L64.46,134.67L65.34,135.56L66.45,136.56L67.56,137.52L70.95,139.88L74.44,142.32L77.93,144.76L81.42,147.20L84.91,149.64L88.40,152.08L91.90,154.53L95.41,156.98L98.93,159.44L102.43,161.89L105.94,164.34L109.45,166.79L112.95,169.24L116.46,171.69L119.96,174.15L123.47,176.60L126.98,179.05L130.48,181.50L133.99,183.95L137.50,186.40L141.01,188.86L144.52,191.31L148.03,193.76L151.54,196.22L155.05,198.67L158.56,201.12L162.07,203.58L165.58,206.03L169.09,208.48L172.60,210.93L176.10,213.39L179.61,215.84L183.12,218.29L186.63,220.75L190.14,223.20L193.65,225.65L197.16,228.11L200.67,230.56L204.18,233.01L207.57,235.38L209.02,236.39L210.41,237.24L211.68,237.92L212.85,238.46L213.97,238.87L215.10,239.17L216.27,239.40L217.54,239.54L218.93,239.60L220.46,239.58L222.48,239.34L224.39,239.04L226.23,238.68L228.00,238.26L229.70,237.80L231.35,237.29L232.95,236.73L234.59,236.10L238.41,246.10L236.62,246.78L234.69,247.45L232.70,248.07L230.63,248.64L228.48,249.14L226.25,249.58L223.93,249.94L221.54,250.22L219.55,250.49L217.57,250.66L215.55,250.71L213.50,250.61L211.40,250.33L209.28,249.88L207.13,249.22L204.97,248.37L202.77,247.32L200.43,246.02L196.82,243.46L193.33,240.98L189.84,238.50L186.35,236.02L182.86,233.54L179.37,231.06L175.88,228.58L172.39,226.10L168.90,223.62L165.40,221.14L161.91,218.66L158.42,216.18L154.93,213.70L151.44,211.22L147.95,208.74L144.46,206.26L140.97,203.78L137.48,201.30L133.99,198.82L130.50,196.35L127.01,193.88L123.52,191.41L120.02,188.94L116.53,186.47L113.04,184.00L109.54,181.54L106.05,179.07L102.55,176.60L99.06,174.13L95.57,171.66L92.07,169.19L88.59,166.73L85.10,164.29L81.60,161.89L78.09,159.48L74.58,157.07L71.07,154.66L67.56,152.24L64.05,149.83L60.44,147.35L58.65,145.98L57.10,144.70L55.59,143.32L54.16,141.79L52.84,140.03L51.71,137.98L50.92,135.60L50.60,133.13L50.76,130.88L51.24,128.83L52.01,126.94L53.02,125.25L54.18,123.78L55.46,122.52L56.80,121.45L58.18,120.54L59.57,119.77L60.80,119.20Z" fill="#cbc0c0" opacity="1"/>
<ellipse cx="193" cy="273.5" rx="9.6" ry="7" fill="#d4c6c6"/>
<ellipse cx="20" cy="149.5" rx="5" ry="4.2" fill="#d6c6c6"/>
<ellipse cx="236" cy="241.2" rx="6.2" ry="5.6" fill="#cbc0c0"/>
<path d="M60,145.60 L252,282.60 L252,286.30 L60,149.20 Z" fill="#d2c6c6"/>
<ellipse cx="66.8" cy="122" rx="3.6" ry="3.3" fill="#c4cccc"/>
</g>
<circle cx="63.5" cy="113.5" r="6.4" fill="#1220c4"/>
<path d="M66,138.60 L90,155.0 L135,186.8 L203,235" stroke="#6a3006" stroke-width="2.2" fill="none"/>
<ellipse cx="236.6" cy="230" rx="6.2" ry="6" fill="#b8340a"/>
<path d="M66.20,119.30L65.36,119.69L64.78,120.01L64.30,120.32L63.94,120.61L63.69,120.85L63.54,121.03L63.47,121.14L63.44,121.22L63.41,121.31L63.40,121.37L63.36,121.46L63.35,121.54L63.48,121.86L63.84,122.42L64.46,123.17L65.34,124.06L66.45,125.06L67.56,126.02L70.95,128.38L74.44,130.82L77.93,133.26L81.42,135.70L84.91,138.14L88.40,140.58L91.90,143.03L95.41,145.48L98.93,147.94L102.43,150.39L105.94,152.84L109.45,155.29L112.95,157.74L116.46,160.19L119.96,162.65L123.47,165.10L126.98,167.55L130.48,170.00L133.99,172.45L137.50,174.90L141.01,177.36L144.52,179.81L148.03,182.26L151.54,184.72L155.05,187.17L158.56,189.62L162.07,192.08L165.58,194.53L169.09,196.98L172.60,199.43L176.10,201.89L179.61,204.34L183.12,206.79L186.63,209.25L190.14,211.70L193.65,214.15L197.16,216.61L200.67,219.06L204.18,221.51L207.57,223.88L209.02,224.89L210.41,225.74L211.68,226.42L212.85,226.96L213.97,227.37L215.10,227.67L216.27,227.90L217.54,228.04L218.93,228.10L220.46,228.08L222.48,227.84L224.39,227.54L226.23,227.18L228.00,226.76L229.70,226.30L231.35,225.79L232.95,225.23L234.59,224.60L238.41,234.60L236.62,235.28L234.69,235.95L232.70,236.57L230.63,237.14L228.48,237.64L226.25,238.08L223.93,238.44L221.54,238.72L219.55,238.99L217.57,239.16L215.55,239.21L213.50,239.11L211.40,238.83L209.28,238.38L207.13,237.72L204.97,236.87L202.77,235.82L200.43,234.52L196.82,231.96L193.33,229.48L189.84,227.00L186.35,224.52L182.86,222.04L179.37,219.56L175.88,217.08L172.39,214.60L168.90,212.12L165.40,209.64L161.91,207.16L158.42,204.68L154.93,202.20L151.44,199.72L147.95,197.24L144.46,194.76L140.97,192.28L137.48,189.80L133.99,187.32L130.50,184.85L127.01,182.38L123.52,179.91L120.02,177.44L116.53,174.97L113.04,172.50L109.54,170.04L106.05,167.57L102.55,165.10L99.06,162.63L95.57,160.16L92.07,157.69L88.59,155.23L85.10,152.79L81.60,150.39L78.09,147.98L74.58,145.57L71.07,143.16L67.56,140.74L64.05,138.33L60.44,135.85L58.65,134.48L57.10,133.20L55.59,131.82L54.16,130.29L52.84,128.53L51.71,126.48L50.92,124.10L50.60,121.63L50.76,119.38L51.24,117.33L52.01,115.44L53.02,113.75L54.18,112.28L55.46,111.02L56.80,109.95L58.18,109.04L59.57,108.27L60.80,107.70Z" fill="url(#g1)"/>
<path d="M65.80,118.43L64.93,118.83L64.29,119.18L63.74,119.54L63.30,119.89L62.98,120.20L62.76,120.48L62.61,120.72L62.52,120.93L62.47,121.17L62.44,121.39L62.42,121.66L62.48,121.91L62.68,122.36L63.11,123.01L63.80,123.82L64.72,124.75L65.86,125.77L67.03,126.75L70.43,129.13L73.92,131.57L77.41,134.00L80.91,136.44L84.40,138.88L87.89,141.32L91.39,143.76L94.90,146.21L98.41,148.67L101.92,151.12L105.42,153.58L108.93,156.03L112.43,158.48L115.94,160.93L119.44,163.38L122.95,165.84L126.46,168.29L129.96,170.74L133.47,173.19L136.97,175.65L140.48,178.10L143.99,180.56L147.50,183.01L151.01,185.47L154.52,187.92L158.02,190.38L161.53,192.83L165.04,195.29L168.55,197.74L172.06,200.20L175.56,202.65L179.07,205.11L182.58,207.56L186.09,210.02L189.60,212.47L193.10,214.93L196.61,217.38L200.12,219.84L203.63,222.30L207.03,224.68L208.55,225.71L210.00,226.58L211.34,227.27L212.58,227.81L213.78,228.23L214.98,228.53L216.22,228.74L217.54,228.87L218.98,228.91L220.54,228.88L222.58,228.63L224.53,228.33L226.40,227.96L228.20,227.54L229.93,227.07L231.60,226.55L233.23,225.98L234.87,225.35L238.41,234.60L236.62,235.28L234.69,235.95L232.70,236.57L230.63,237.14L228.48,237.64L226.25,238.08L223.93,238.44L221.54,238.72L219.55,238.99L217.57,239.16L215.55,239.21L213.50,239.11L211.40,238.83L209.28,238.38L207.13,237.72L204.97,236.87L202.77,235.82L200.43,234.52L196.82,231.96L193.33,229.48L189.84,227.00L186.35,224.52L182.86,222.04L179.37,219.56L175.88,217.08L172.39,214.60L168.90,212.12L165.40,209.64L161.91,207.16L158.42,204.68L154.93,202.20L151.44,199.72L147.95,197.24L144.46,194.76L140.97,192.28L137.48,189.80L133.99,187.32L130.50,184.85L127.01,182.38L123.52,179.91L120.02,177.44L116.53,174.97L113.04,172.50L109.54,170.04L106.05,167.57L102.55,165.10L99.06,162.63L95.57,160.16L92.07,157.69L88.59,155.23L85.10,152.79L81.60,150.39L78.09,147.98L74.58,145.57L71.07,143.16L67.56,140.74L64.05,138.33L60.44,135.85L58.65,134.48L57.10,133.20L55.59,131.82L54.16,130.29L52.84,128.53L51.71,126.48L50.92,124.10L50.60,121.63L50.76,119.38L51.24,117.33L52.01,115.44L53.02,113.75L54.18,112.28L55.46,111.02L56.80,109.95L58.18,109.04L59.57,108.27L60.80,107.70Z" fill="url(#g2)"/>
<path d="M65.39,117.56L64.49,117.98L63.79,118.36L63.18,118.76L62.67,119.17L62.27,119.56L61.97,119.94L61.75,120.29L61.61,120.64L61.52,121.02L61.48,121.41L61.49,121.86L61.60,122.28L61.88,122.86L62.39,123.60L63.13,124.47L64.10,125.43L65.28,126.48L66.49,127.49L69.91,129.88L73.41,132.31L76.90,134.75L80.39,137.18L83.89,139.62L87.38,142.05L90.88,144.49L94.39,146.95L97.90,149.40L101.40,151.86L104.91,154.31L108.41,156.76L111.92,159.22L115.42,161.67L118.93,164.12L122.43,166.58L125.93,169.03L129.44,171.49L132.94,173.94L136.45,176.39L139.96,178.85L143.46,181.31L146.97,183.77L150.48,186.22L153.98,188.68L157.49,191.14L161.00,193.59L164.50,196.05L168.01,198.51L171.52,200.96L175.02,203.42L178.53,205.88L182.04,208.34L185.54,210.79L189.05,213.25L192.56,215.71L196.06,218.16L199.57,220.62L203.08,223.08L206.50,225.48L208.08,226.53L209.59,227.41L211.00,228.12L212.31,228.67L213.59,229.09L214.86,229.39L216.16,229.59L217.54,229.70L219.02,229.73L220.62,229.67L222.69,229.43L224.67,229.12L226.57,228.75L228.39,228.32L230.15,227.84L231.85,227.31L233.50,226.74L235.16,226.10L238.41,234.60L236.62,235.28L234.69,235.95L232.70,236.57L230.63,237.14L228.48,237.64L226.25,238.08L223.93,238.44L221.54,238.72L219.55,238.99L217.57,239.16L215.55,239.21L213.50,239.11L211.40,238.83L209.28,238.38L207.13,237.72L204.97,236.87L202.77,235.82L200.43,234.52L196.82,231.96L193.33,229.48L189.84,227.00L186.35,224.52L182.86,222.04L179.37,219.56L175.88,217.08L172.39,214.60L168.90,212.12L165.40,209.64L161.91,207.16L158.42,204.68L154.93,202.20L151.44,199.72L147.95,197.24L144.46,194.76L140.97,192.28L137.48,189.80L133.99,187.32L130.50,184.85L127.01,182.38L123.52,179.91L120.02,177.44L116.53,174.97L113.04,172.50L109.54,170.04L106.05,167.57L102.55,165.10L99.06,162.63L95.57,160.16L92.07,157.69L88.59,155.23L85.10,152.79L81.60,150.39L78.09,147.98L74.58,145.57L71.07,143.16L67.56,140.74L64.05,138.33L60.44,135.85L58.65,134.48L57.10,133.20L55.59,131.82L54.16,130.29L52.84,128.53L51.71,126.48L50.92,124.10L50.60,121.63L50.76,119.38L51.24,117.33L52.01,115.44L53.02,113.75L54.18,112.28L55.46,111.02L56.80,109.95L58.18,109.04L59.57,108.27L60.80,107.70Z" fill="url(#g3)"/>
<path d="M64.85,116.40L63.91,116.83L63.13,117.27L62.43,117.73L61.82,118.21L61.31,118.70L60.91,119.21L60.61,119.72L60.39,120.25L60.25,120.83L60.20,121.44L60.25,122.12L60.44,122.78L60.82,123.53L61.42,124.39L62.24,125.33L63.28,126.35L64.50,127.42L65.78,128.47L69.22,130.87L72.72,133.30L76.21,135.74L79.71,138.17L83.20,140.60L86.70,143.03L90.20,145.47L93.71,147.92L97.21,150.38L100.72,152.83L104.22,155.29L107.72,157.74L111.23,160.20L114.73,162.65L118.23,165.11L121.74,167.57L125.24,170.02L128.74,172.48L132.24,174.93L135.75,177.39L139.26,179.85L142.76,182.31L146.26,184.77L149.77,187.23L153.27,189.69L156.78,192.15L160.28,194.61L163.79,197.07L167.29,199.53L170.80,201.99L174.30,204.45L177.81,206.90L181.31,209.36L184.82,211.82L188.32,214.28L191.83,216.74L195.33,219.20L198.84,221.66L202.34,224.12L205.78,226.54L207.46,227.62L209.05,228.53L210.54,229.25L211.96,229.81L213.33,230.23L214.70,230.53L216.09,230.72L217.54,230.82L219.09,230.82L220.73,230.74L222.84,230.49L224.86,230.17L226.79,229.79L228.66,229.36L230.45,228.87L232.19,228.33L233.87,227.74L235.54,227.10L238.41,234.60L236.62,235.28L234.69,235.95L232.70,236.57L230.63,237.14L228.48,237.64L226.25,238.08L223.93,238.44L221.54,238.72L219.55,238.99L217.57,239.16L215.55,239.21L213.50,239.11L211.40,238.83L209.28,238.38L207.13,237.72L204.97,236.87L202.77,235.82L200.43,234.52L196.82,231.96L193.33,229.48L189.84,227.00L186.35,224.52L182.86,222.04L179.37,219.56L175.88,217.08L172.39,214.60L168.90,212.12L165.40,209.64L161.91,207.16L158.42,204.68L154.93,202.20L151.44,199.72L147.95,197.24L144.46,194.76L140.97,192.28L137.48,189.80L133.99,187.32L130.50,184.85L127.01,182.38L123.52,179.91L120.02,177.44L116.53,174.97L113.04,172.50L109.54,170.04L106.05,167.57L102.55,165.10L99.06,162.63L95.57,160.16L92.07,157.69L88.59,155.23L85.10,152.79L81.60,150.39L78.09,147.98L74.58,145.57L71.07,143.16L67.56,140.74L64.05,138.33L60.44,135.85L58.65,134.48L57.10,133.20L55.59,131.82L54.16,130.29L52.84,128.53L51.71,126.48L50.92,124.10L50.60,121.63L50.76,119.38L51.24,117.33L52.01,115.44L53.02,113.75L54.18,112.28L55.46,111.02L56.80,109.95L58.18,109.04L59.57,108.27L60.80,107.70Z" fill="url(#g4)"/>
<path d="M64.31,115.24L63.34,115.69L62.47,116.17L61.68,116.69L60.97,117.25L60.36,117.85L59.86,118.48L59.46,119.15L59.17,119.86L58.99,120.63L58.92,121.46L59.00,122.39L59.28,123.27L59.76,124.20L60.45,125.17L61.36,126.20L62.46,127.26L63.72,128.36L65.07,129.46L68.53,131.87L72.03,134.30L75.53,136.72L79.03,139.15L82.52,141.58L86.02,144.01L89.52,146.45L93.02,148.89L96.53,151.35L100.03,153.81L103.53,156.27L107.03,158.72L110.54,161.18L114.04,163.64L117.54,166.10L121.04,168.55L124.54,171.01L128.05,173.47L131.55,175.93L135.05,178.38L138.55,180.84L142.06,183.31L145.56,185.77L149.06,188.23L152.56,190.69L156.07,193.16L159.57,195.62L163.07,198.08L166.58,200.54L170.08,203.01L173.58,205.47L177.08,207.93L180.59,210.39L184.09,212.86L187.59,215.32L191.10,217.78L194.60,220.24L198.10,222.70L201.60,225.17L205.07,227.60L206.83,228.71L208.50,229.64L210.09,230.38L211.60,230.95L213.07,231.38L214.54,231.68L216.02,231.85L217.55,231.93L219.15,231.91L220.84,231.80L222.99,231.55L225.04,231.23L227.02,230.84L228.92,230.39L230.75,229.89L232.52,229.34L234.24,228.75L235.93,228.10L238.41,234.60L236.62,235.28L234.69,235.95L232.70,236.57L230.63,237.14L228.48,237.64L226.25,238.08L223.93,238.44L221.54,238.72L219.55,238.99L217.57,239.16L215.55,239.21L213.50,239.11L211.40,238.83L209.28,238.38L207.13,237.72L204.97,236.87L202.77,235.82L200.43,234.52L196.82,231.96L193.33,229.48L189.84,227.00L186.35,224.52L182.86,222.04L179.37,219.56L175.88,217.08L172.39,214.60L168.90,212.12L165.40,209.64L161.91,207.16L158.42,204.68L154.93,202.20L151.44,199.72L147.95,197.24L144.46,194.76L140.97,192.28L137.48,189.80L133.99,187.32L130.50,184.85L127.01,182.38L123.52,179.91L120.02,177.44L116.53,174.97L113.04,172.50L109.54,170.04L106.05,167.57L102.55,165.10L99.06,162.63L95.57,160.16L92.07,157.69L88.59,155.23L85.10,152.79L81.60,150.39L78.09,147.98L74.58,145.57L71.07,143.16L67.56,140.74L64.05,138.33L60.44,135.85L58.65,134.48L57.10,133.20L55.59,131.82L54.16,130.29L52.84,128.53L51.71,126.48L50.92,124.10L50.60,121.63L50.76,119.38L51.24,117.33L52.01,115.44L53.02,113.75L54.18,112.28L55.46,111.02L56.80,109.95L58.18,109.04L59.57,108.27L60.80,107.70Z" fill="url(#g5)"/>
<path d="M63.77,114.08L62.76,114.55L61.81,115.07L60.93,115.65L60.12,116.29L59.41,116.99L58.81,117.75L58.32,118.58L57.95,119.47L57.72,120.44L57.64,121.49L57.76,122.65L58.11,123.76L58.69,124.86L59.48,125.96L60.47,127.06L61.63,128.17L62.94,129.30L64.36,130.44L67.84,132.86L71.34,135.29L74.84,137.71L78.34,140.14L81.84,142.57L85.34,144.99L88.84,147.42L92.34,149.87L95.84,152.33L99.34,154.79L102.84,157.25L106.34,159.71L109.85,162.16L113.35,164.62L116.85,167.08L120.35,169.54L123.85,172.00L127.35,174.46L130.85,176.92L134.35,179.38L137.85,181.84L141.35,184.31L144.85,186.77L148.35,189.24L151.85,191.70L155.36,194.17L158.86,196.63L162.36,199.10L165.86,201.56L169.36,204.03L172.86,206.49L176.36,208.96L179.86,211.42L183.36,213.89L186.86,216.35L190.37,218.82L193.87,221.28L197.37,223.75L200.87,226.21L204.36,228.67L206.21,229.81L207.96,230.75L209.63,231.51L211.24,232.09L212.82,232.53L214.38,232.82L215.95,232.99L217.55,233.04L219.21,233.00L220.95,232.87L223.13,232.61L225.23,232.28L227.24,231.89L229.18,231.43L231.05,230.92L232.86,230.36L234.60,229.75L236.31,229.10L238.41,234.60L236.62,235.28L234.69,235.95L232.70,236.57L230.63,237.14L228.48,237.64L226.25,238.08L223.93,238.44L221.54,238.72L219.55,238.99L217.57,239.16L215.55,239.21L213.50,239.11L211.40,238.83L209.28,238.38L207.13,237.72L204.97,236.87L202.77,235.82L200.43,234.52L196.82,231.96L193.33,229.48L189.84,227.00L186.35,224.52L182.86,222.04L179.37,219.56L175.88,217.08L172.39,214.60L168.90,212.12L165.40,209.64L161.91,207.16L158.42,204.68L154.93,202.20L151.44,199.72L147.95,197.24L144.46,194.76L140.97,192.28L137.48,189.80L133.99,187.32L130.50,184.85L127.01,182.38L123.52,179.91L120.02,177.44L116.53,174.97L113.04,172.50L109.54,170.04L106.05,167.57L102.55,165.10L99.06,162.63L95.57,160.16L92.07,157.69L88.59,155.23L85.10,152.79L81.60,150.39L78.09,147.98L74.58,145.57L71.07,143.16L67.56,140.74L64.05,138.33L60.44,135.85L58.65,134.48L57.10,133.20L55.59,131.82L54.16,130.29L52.84,128.53L51.71,126.48L50.92,124.10L50.60,121.63L50.76,119.38L51.24,117.33L52.01,115.44L53.02,113.75L54.18,112.28L55.46,111.02L56.80,109.95L58.18,109.04L59.57,108.27L60.80,107.70Z" fill="url(#g6)"/>
<path d="M63.23,112.92L62.18,113.41L61.15,113.98L60.18,114.62L59.28,115.33L58.46,116.13L57.75,117.02L57.17,118.01L56.73,119.08L56.45,120.25L56.36,121.51L56.51,122.91L56.95,124.26L57.63,125.53L58.52,126.75L59.58,127.93L60.81,129.09L62.16,130.24L63.64,131.42L67.16,133.86L70.66,136.28L74.16,138.70L77.66,141.13L81.16,143.55L84.66,145.98L88.16,148.40L91.66,150.84L95.16,153.30L98.66,155.76L102.16,158.22L105.66,160.69L109.15,163.15L112.65,165.61L116.15,168.07L119.65,170.53L123.15,172.99L126.65,175.45L130.15,177.91L133.65,180.37L137.15,182.84L140.65,185.31L144.15,187.77L147.65,190.24L151.15,192.71L154.64,195.18L158.14,197.64L161.64,200.11L165.14,202.58L168.64,205.05L172.14,207.51L175.64,209.98L179.14,212.45L182.64,214.92L186.14,217.38L189.63,219.85L193.13,222.32L196.63,224.79L200.13,227.26L203.64,229.73L205.58,230.90L207.42,231.86L209.18,232.64L210.89,233.24L212.56,233.67L214.22,233.96L215.87,234.12L217.55,234.15L219.27,234.09L221.05,233.93L223.28,233.67L225.41,233.33L227.47,232.93L229.44,232.47L231.35,231.95L233.19,231.38L234.97,230.76L236.69,230.10L238.41,234.60L236.62,235.28L234.69,235.95L232.70,236.57L230.63,237.14L228.48,237.64L226.25,238.08L223.93,238.44L221.54,238.72L219.55,238.99L217.57,239.16L215.55,239.21L213.50,239.11L211.40,238.83L209.28,238.38L207.13,237.72L204.97,236.87L202.77,235.82L200.43,234.52L196.82,231.96L193.33,229.48L189.84,227.00L186.35,224.52L182.86,222.04L179.37,219.56L175.88,217.08L172.39,214.60L168.90,212.12L165.40,209.64L161.91,207.16L158.42,204.68L154.93,202.20L151.44,199.72L147.95,197.24L144.46,194.76L140.97,192.28L137.48,189.80L133.99,187.32L130.50,184.85L127.01,182.38L123.52,179.91L120.02,177.44L116.53,174.97L113.04,172.50L109.54,170.04L106.05,167.57L102.55,165.10L99.06,162.63L95.57,160.16L92.07,157.69L88.59,155.23L85.10,152.79L81.60,150.39L78.09,147.98L74.58,145.57L71.07,143.16L67.56,140.74L64.05,138.33L60.44,135.85L58.65,134.48L57.10,133.20L55.59,131.82L54.16,130.29L52.84,128.53L51.71,126.48L50.92,124.10L50.60,121.63L50.76,119.38L51.24,117.33L52.01,115.44L53.02,113.75L54.18,112.28L55.46,111.02L56.80,109.95L58.18,109.04L59.57,108.27L60.80,107.70Z" fill="url(#g7)"/>
<path d="M62.69,111.76L61.60,112.27L60.49,112.88L59.43,113.58L58.43,114.37L57.51,115.28L56.70,116.30L56.02,117.44L55.51,118.69L55.19,120.05L55.08,121.54L55.27,123.18L55.79,124.75L56.56,126.20L57.55,127.53L58.70,128.79L59.98,130.00L61.38,131.18L62.93,132.41L66.47,134.85L69.97,137.27L73.47,139.69L76.97,142.11L80.48,144.54L83.98,146.96L87.48,149.38L90.98,151.82L94.47,154.28L97.97,156.74L101.47,159.20L104.97,161.67L108.46,164.13L111.96,166.59L115.46,169.05L118.96,171.52L122.46,173.98L125.95,176.44L129.45,178.90L132.95,181.37L136.45,183.83L139.94,186.30L143.44,188.77L146.94,191.24L150.44,193.72L153.93,196.19L157.43,198.66L160.93,201.13L164.42,203.60L167.92,206.07L171.42,208.54L174.92,211.01L178.41,213.48L181.91,215.95L185.41,218.42L188.90,220.89L192.40,223.36L195.90,225.83L199.40,228.30L202.93,230.80L204.96,232.00L206.87,232.98L208.72,233.77L210.53,234.38L212.30,234.82L214.06,235.11L215.80,235.25L217.56,235.27L219.33,235.18L221.16,235.00L223.42,234.73L225.60,234.39L227.69,233.98L229.71,233.51L231.65,232.98L233.52,232.39L235.34,231.76L237.07,231.10L238.41,234.60L236.62,235.28L234.69,235.95L232.70,236.57L230.63,237.14L228.48,237.64L226.25,238.08L223.93,238.44L221.54,238.72L219.55,238.99L217.57,239.16L215.55,239.21L213.50,239.11L211.40,238.83L209.28,238.38L207.13,237.72L204.97,236.87L202.77,235.82L200.43,234.52L196.82,231.96L193.33,229.48L189.84,227.00L186.35,224.52L182.86,222.04L179.37,219.56L175.88,217.08L172.39,214.60L168.90,212.12L165.40,209.64L161.91,207.16L158.42,204.68L154.93,202.20L151.44,199.72L147.95,197.24L144.46,194.76L140.97,192.28L137.48,189.80L133.99,187.32L130.50,184.85L127.01,182.38L123.52,179.91L120.02,177.44L116.53,174.97L113.04,172.50L109.54,170.04L106.05,167.57L102.55,165.10L99.06,162.63L95.57,160.16L92.07,157.69L88.59,155.23L85.10,152.79L81.60,150.39L78.09,147.98L74.58,145.57L71.07,143.16L67.56,140.74L64.05,138.33L60.44,135.85L58.65,134.48L57.10,133.20L55.59,131.82L54.16,130.29L52.84,128.53L51.71,126.48L50.92,124.10L50.60,121.63L50.76,119.38L51.24,117.33L52.01,115.44L53.02,113.75L54.18,112.28L55.46,111.02L56.80,109.95L58.18,109.04L59.57,108.27L60.80,107.70Z" fill="url(#g8)"/>
<path d="M62.15,110.60L61.02,111.13L59.83,111.78L58.68,112.54L57.58,113.42L56.56,114.42L55.65,115.57L54.88,116.87L54.29,118.30L53.92,119.86L53.80,121.56L54.03,123.44L54.62,125.24L55.50,126.86L56.58,128.32L57.81,129.66L59.16,130.91L60.60,132.13L62.22,133.39L65.78,135.85L69.28,138.26L72.79,140.68L76.29,143.10L79.80,145.52L83.30,147.94L86.80,150.35L90.29,152.79L93.79,155.25L97.28,157.72L100.78,160.18L104.28,162.65L107.77,165.11L111.27,167.58L114.77,170.04L118.26,172.50L121.76,174.97L125.26,177.43L128.76,179.90L132.25,182.36L135.74,184.83L139.24,187.30L142.74,189.78L146.23,192.25L149.73,194.72L153.22,197.20L156.72,199.67L160.21,202.14L163.71,204.61L167.20,207.09L170.70,209.56L174.19,212.03L177.69,214.51L181.18,216.98L184.68,219.45L188.17,221.93L191.67,224.40L195.16,226.87L198.66,229.34L202.22,231.86L204.33,233.09L206.33,234.09L208.27,234.90L210.17,235.52L212.04,235.97L213.90,236.25L215.73,236.38L217.56,236.38L219.40,236.26L221.27,236.06L223.57,235.79L225.78,235.44L227.92,235.02L229.97,234.54L231.95,234.00L233.86,233.41L235.71,232.77L237.46,232.10L238.41,234.60L236.62,235.28L234.69,235.95L232.70,236.57L230.63,237.14L228.48,237.64L226.25,238.08L223.93,238.44L221.54,238.72L219.55,238.99L217.57,239.16L215.55,239.21L213.50,239.11L211.40,238.83L209.28,238.38L207.13,237.72L204.97,236.87L202.77,235.82L200.43,234.52L196.82,231.96L193.33,229.48L189.84,227.00L186.35,224.52L182.86,222.04L179.37,219.56L175.88,217.08L172.39,214.60L168.90,212.12L165.40,209.64L161.91,207.16L158.42,204.68L154.93,202.20L151.44,199.72L147.95,197.24L144.46,194.76L140.97,192.28L137.48,189.80L133.99,187.32L130.50,184.85L127.01,182.38L123.52,179.91L120.02,177.44L116.53,174.97L113.04,172.50L109.54,170.04L106.05,167.57L102.55,165.10L99.06,162.63L95.57,160.16L92.07,157.69L88.59,155.23L85.10,152.79L81.60,150.39L78.09,147.98L74.58,145.57L71.07,143.16L67.56,140.74L64.05,138.33L60.44,135.85L58.65,134.48L57.10,133.20L55.59,131.82L54.16,130.29L52.84,128.53L51.71,126.48L50.92,124.10L50.60,121.63L50.76,119.38L51.24,117.33L52.01,115.44L53.02,113.75L54.18,112.28L55.46,111.02L56.80,109.95L58.18,109.04L59.57,108.27L60.80,107.70Z" fill="url(#g9)"/>
<path d="M61.74,109.73L60.59,110.27L59.33,110.96L58.11,111.76L56.94,112.70L55.85,113.78L54.86,115.02L54.02,116.44L53.38,118.01L52.98,119.72L52.84,121.58L53.09,123.64L53.75,125.61L54.70,127.36L55.85,128.91L57.14,130.31L58.54,131.60L60.02,132.83L61.68,134.13L65.26,136.59L68.77,139.01L72.27,141.42L75.78,143.84L79.28,146.26L82.79,148.67L86.29,151.08L89.78,153.52L93.27,155.98L96.77,158.45L100.26,160.92L103.76,163.38L107.26,165.85L110.75,168.31L114.25,170.78L117.74,173.25L121.24,175.71L124.74,178.18L128.23,180.64L131.73,183.11L135.22,185.58L138.71,188.05L142.21,190.53L145.70,193.00L149.19,195.48L152.69,197.95L156.18,200.43L159.68,202.90L163.17,205.38L166.66,207.85L170.16,210.33L173.65,212.80L177.14,215.28L180.64,217.75L184.13,220.23L187.63,222.70L191.12,225.18L194.61,227.65L198.11,230.13L201.68,232.66L203.86,233.91L205.92,234.92L207.93,235.74L209.90,236.38L211.85,236.83L213.78,237.11L215.68,237.23L217.56,237.21L219.44,237.08L221.35,236.86L223.68,236.58L225.92,236.23L228.08,235.81L230.17,235.32L232.17,234.77L234.11,234.17L235.98,233.52L237.74,232.85L238.41,234.60L236.62,235.28L234.69,235.95L232.70,236.57L230.63,237.14L228.48,237.64L226.25,238.08L223.93,238.44L221.54,238.72L219.55,238.99L217.57,239.16L215.55,239.21L213.50,239.11L211.40,238.83L209.28,238.38L207.13,237.72L204.97,236.87L202.77,235.82L200.43,234.52L196.82,231.96L193.33,229.48L189.84,227.00L186.35,224.52L182.86,222.04L179.37,219.56L175.88,217.08L172.39,214.60L168.90,212.12L165.40,209.64L161.91,207.16L158.42,204.68L154.93,202.20L151.44,199.72L147.95,197.24L144.46,194.76L140.97,192.28L137.48,189.80L133.99,187.32L130.50,184.85L127.01,182.38L123.52,179.91L120.02,177.44L116.53,174.97L113.04,172.50L109.54,170.04L106.05,167.57L102.55,165.10L99.06,162.63L95.57,160.16L92.07,157.69L88.59,155.23L85.10,152.79L81.60,150.39L78.09,147.98L74.58,145.57L71.07,143.16L67.56,140.74L64.05,138.33L60.44,135.85L58.65,134.48L57.10,133.20L55.59,131.82L54.16,130.29L52.84,128.53L51.71,126.48L50.92,124.10L50.60,121.63L50.76,119.38L51.24,117.33L52.01,115.44L53.02,113.75L54.18,112.28L55.46,111.02L56.80,109.95L58.18,109.04L59.57,108.27L60.80,107.70Z" fill="url(#g10)"/>
<path d="M61.34,108.86L60.15,109.41L58.84,110.14L57.55,110.99L56.31,111.98L55.13,113.14L54.07,114.48L53.16,116.01L52.46,117.72L52.03,119.57L51.88,121.60L52.16,123.84L52.88,125.98L53.91,127.86L55.13,129.50L56.48,130.95L57.92,132.28L59.43,133.54L61.15,134.87L64.74,137.34L68.25,139.75L71.76,142.17L75.27,144.58L78.77,146.99L82.28,149.41L85.78,151.82L89.27,154.25L92.76,156.72L96.25,159.18L99.75,161.65L103.24,164.12L106.74,166.58L110.23,169.05L113.73,171.52L117.22,173.99L120.72,176.45L124.21,178.92L127.71,181.39L131.20,183.85L134.69,186.33L138.18,188.80L141.68,191.28L145.17,193.76L148.66,196.23L152.15,198.71L155.65,201.19L159.14,203.66L162.63,206.14L166.12,208.62L169.62,211.09L173.11,213.57L176.60,216.05L180.09,218.53L183.59,221.00L187.08,223.48L190.57,225.96L194.06,228.43L197.56,230.91L201.14,233.45L203.39,234.73L205.51,235.76L207.59,236.59L209.63,237.23L211.66,237.69L213.66,237.96L215.62,238.08L217.56,238.05L219.49,237.90L221.43,237.66L223.79,237.38L226.06,237.02L228.25,236.59L230.36,236.10L232.40,235.54L234.36,234.93L236.26,234.28L238.03,233.60L238.41,234.60L236.62,235.28L234.69,235.95L232.70,236.57L230.63,237.14L228.48,237.64L226.25,238.08L223.93,238.44L221.54,238.72L219.55,238.99L217.57,239.16L215.55,239.21L213.50,239.11L211.40,238.83L209.28,238.38L207.13,237.72L204.97,236.87L202.77,235.82L200.43,234.52L196.82,231.96L193.33,229.48L189.84,227.00L186.35,224.52L182.86,222.04L179.37,219.56L175.88,217.08L172.39,214.60L168.90,212.12L165.40,209.64L161.91,207.16L158.42,204.68L154.93,202.20L151.44,199.72L147.95,197.24L144.46,194.76L140.97,192.28L137.48,189.80L133.99,187.32L130.50,184.85L127.01,182.38L123.52,179.91L120.02,177.44L116.53,174.97L113.04,172.50L109.54,170.04L106.05,167.57L102.55,165.10L99.06,162.63L95.57,160.16L92.07,157.69L88.59,155.23L85.10,152.79L81.60,150.39L78.09,147.98L74.58,145.57L71.07,143.16L67.56,140.74L64.05,138.33L60.44,135.85L58.65,134.48L57.10,133.20L55.59,131.82L54.16,130.29L52.84,128.53L51.71,126.48L50.92,124.10L50.60,121.63L50.76,119.38L51.24,117.33L52.01,115.44L53.02,113.75L54.18,112.28L55.46,111.02L56.80,109.95L58.18,109.04L59.57,108.27L60.80,107.70Z" fill="url(#g11)"/>
<path d="M61.07,108.28L59.86,108.84L58.51,109.59L57.18,110.47L55.88,111.50L54.66,112.71L53.54,114.11L52.59,115.72L51.85,117.53L51.39,119.47L51.24,121.62L51.54,123.97L52.30,126.23L53.37,128.20L54.64,129.89L56.04,131.39L57.51,132.74L59.04,134.01L60.79,135.36L64.40,137.84L67.91,140.25L71.41,142.66L74.92,145.07L78.43,147.49L81.94,149.90L85.44,152.31L88.93,154.74L92.42,157.20L95.91,159.67L99.40,162.14L102.90,164.61L106.39,167.08L109.89,169.54L113.38,172.01L116.88,174.48L120.37,176.95L123.86,179.42L127.36,181.88L130.85,184.35L134.34,186.82L137.83,189.30L141.32,191.78L144.81,194.26L148.31,196.74L151.80,199.21L155.29,201.69L158.78,204.17L162.27,206.65L165.76,209.13L169.26,211.61L172.75,214.08L176.24,216.56L179.73,219.04L183.22,221.52L186.71,224.00L190.21,226.48L193.70,228.95L197.19,231.43L200.79,233.99L203.08,235.28L205.24,236.31L207.36,237.16L209.46,237.80L211.53,238.26L213.58,238.53L215.59,238.64L217.57,238.60L219.52,238.44L221.49,238.19L223.86,237.91L226.15,237.55L228.36,237.12L230.49,236.62L232.55,236.06L234.53,235.44L236.44,234.78L238.22,234.10L238.41,234.60L236.62,235.28L234.69,235.95L232.70,236.57L230.63,237.14L228.48,237.64L226.25,238.08L223.93,238.44L221.54,238.72L219.55,238.99L217.57,239.16L215.55,239.21L213.50,239.11L211.40,238.83L209.28,238.38L207.13,237.72L204.97,236.87L202.77,235.82L200.43,234.52L196.82,231.96L193.33,229.48L189.84,227.00L186.35,224.52L182.86,222.04L179.37,219.56L175.88,217.08L172.39,214.60L168.90,212.12L165.40,209.64L161.91,207.16L158.42,204.68L154.93,202.20L151.44,199.72L147.95,197.24L144.46,194.76L140.97,192.28L137.48,189.80L133.99,187.32L130.50,184.85L127.01,182.38L123.52,179.91L120.02,177.44L116.53,174.97L113.04,172.50L109.54,170.04L106.05,167.57L102.55,165.10L99.06,162.63L95.57,160.16L92.07,157.69L88.59,155.23L85.10,152.79L81.60,150.39L78.09,147.98L74.58,145.57L71.07,143.16L67.56,140.74L64.05,138.33L60.44,135.85L58.65,134.48L57.10,133.20L55.59,131.82L54.16,130.29L52.84,128.53L51.71,126.48L50.92,124.10L50.60,121.63L50.76,119.38L51.24,117.33L52.01,115.44L53.02,113.75L54.18,112.28L55.46,111.02L56.80,109.95L58.18,109.04L59.57,108.27L60.80,107.70Z" fill="url(#g12)"/>
<ellipse cx="236.5" cy="228.8" rx="5.4" ry="4.2" fill="#d44c14"/>
<path d="M59.2,111 V98 Q59.2,95 62.4,95 Q65.6,95 65.6,98 V112 Z" fill="url(#stb)"/>
<path d="M232.8,229 V215 Q232.8,211.5 236.5,211.5 Q240.2,211.5 240.2,215 V229 Q236.5,231.5 232.8,229 Z" fill="url(#sto)"/>
<path d="M34.10,117.20L90.00,155.60L135.00,187.40L222.00,249.20L254.70,272.40L251.60,275.50L222.00,254.57L135.00,192.47L90.00,160.00L32.40,119.70Z" fill="url(#strp)"/>
<path d="M34.10,117.45L90.00,155.85L135.00,187.65L222.00,249.45L254.70,272.65" stroke="#f4d0b4" stroke-width="0.75" opacity="0.9" fill="none"/>
<path d="M32.40,119.00L90.00,159.30L135.00,191.78L222.00,253.87L251.60,274.80" stroke="#5a1c06" stroke-width="0.6" opacity="0.5" fill="none"/>
<path d="M90.00,160.00L135.00,192.47L222.00,254.57L251.60,275.50" stroke="#f6ccb4" stroke-width="0.75" opacity="0.9" fill="none"/>
<ellipse cx="19.3" cy="138" rx="6.2" ry="4.4" fill="#a80808"/>
<ellipse cx="194" cy="261.3" rx="9.9" ry="7.6" fill="#a80606"/>
<path d="M16.52,133.04L18.35,132.44L20.21,131.84L22.11,131.26L24.05,130.72L26.05,130.21L28.10,129.77L30.21,129.39L32.39,129.09L34.63,128.89L37.05,128.80L39.73,128.88L42.33,129.28L44.79,129.97L47.09,130.88L49.24,131.97L51.29,133.19L53.26,134.50L55.21,135.87L58.68,138.30L62.10,140.69L65.48,143.05L68.86,145.41L72.26,147.79L75.66,150.17L79.07,152.55L82.49,154.95L85.90,157.33L89.31,159.72L92.73,162.11L96.15,164.55L99.55,167.01L102.95,169.46L106.34,171.90L109.73,174.35L113.11,176.79L116.48,179.22L119.85,181.65L123.22,184.08L126.60,186.52L129.98,188.96L133.35,191.39L136.72,193.82L140.06,196.24L143.40,198.66L146.75,201.09L150.10,203.52L153.44,205.94L156.79,208.33L160.15,210.72L163.50,213.11L166.86,215.49L170.22,217.88L173.57,220.27L176.93,222.66L180.29,225.05L183.65,227.44L187.01,229.83L190.28,232.15L191.76,233.11L193.56,234.34L195.41,235.71L197.25,237.26L199.06,239.05L200.75,241.14L202.24,243.55L203.42,246.30L204.16,249.32L204.39,252.91L203.88,255.83L203.51,257.70L203.13,259.58L202.76,261.45L188.24,258.55L188.62,256.67L188.99,254.80L189.37,252.92L189.61,252.09L189.52,251.67L189.35,251.04L189.08,250.46L188.67,249.84L188.07,249.13L187.24,248.33L186.20,247.48L184.95,246.58L183.53,245.64L181.72,244.48L178.29,241.98L174.95,239.57L171.61,237.16L168.27,234.75L164.93,232.34L161.58,229.93L158.24,227.52L154.90,225.11L151.55,222.68L148.21,220.25L144.86,217.81L141.50,215.37L138.15,212.94L134.80,210.51L131.44,208.06L128.08,205.57L124.75,203.05L121.42,200.55L118.10,198.04L114.78,195.53L111.45,193.02L108.12,190.51L104.79,187.97L101.47,185.40L98.16,182.84L94.85,180.27L91.55,177.71L88.25,175.15L84.97,172.61L81.69,170.06L78.40,167.51L75.11,164.96L71.83,162.42L68.54,159.91L65.24,157.40L61.94,154.89L58.62,152.36L55.30,149.74L52.02,147.03L48.79,144.35L47.07,142.96L45.50,141.75L44.04,140.71L42.66,139.87L41.34,139.21L40.01,138.71L38.60,138.37L36.95,138.20L35.23,138.27L33.44,138.43L31.67,138.67L29.93,138.99L28.20,139.36L26.47,139.80L24.75,140.28L23.01,140.81L21.26,141.37L19.48,141.96Z" fill="#a60908"/>
<path d="M16.75,133.71L18.56,133.11L20.42,132.51L22.31,131.94L24.24,131.40L26.21,130.90L28.24,130.46L30.32,130.08L32.47,129.79L34.67,129.60L37.04,129.51L39.64,129.60L42.16,129.99L44.53,130.66L46.75,131.56L48.85,132.63L50.85,133.84L52.80,135.14L54.73,136.51L58.18,138.95L61.59,141.37L64.96,143.75L68.34,146.12L71.73,148.51L75.12,150.90L78.53,153.29L81.94,155.70L85.34,158.10L88.74,160.49L92.15,162.90L95.56,165.35L98.95,167.81L102.34,170.27L105.73,172.72L109.11,175.18L112.49,177.63L115.85,180.06L119.22,182.50L122.59,184.94L125.96,187.38L129.34,189.83L132.71,192.27L136.07,194.70L139.42,197.12L142.76,199.55L146.11,201.98L149.46,204.41L152.80,206.83L156.15,209.23L159.50,211.62L162.86,214.01L166.21,216.40L169.57,218.79L172.93,221.18L176.28,223.57L179.64,225.96L183.00,228.35L186.36,230.74L189.64,233.08L191.14,234.05L192.92,235.26L194.72,236.59L196.50,238.09L198.23,239.81L199.85,241.79L201.26,244.07L202.36,246.65L203.06,249.50L203.28,252.85L202.79,255.61L202.42,257.48L202.04,259.36L201.67,261.23L188.24,258.55L188.62,256.67L188.99,254.80L189.37,252.92L189.61,252.09L189.52,251.67L189.35,251.04L189.08,250.46L188.67,249.84L188.07,249.13L187.24,248.33L186.20,247.48L184.95,246.58L183.53,245.64L181.72,244.48L178.29,241.98L174.95,239.57L171.61,237.16L168.27,234.75L164.93,232.34L161.58,229.93L158.24,227.52L154.90,225.11L151.55,222.68L148.21,220.25L144.86,217.81L141.50,215.37L138.15,212.94L134.80,210.51L131.44,208.06L128.08,205.57L124.75,203.05L121.42,200.55L118.10,198.04L114.78,195.53L111.45,193.02L108.12,190.51L104.79,187.97L101.47,185.40L98.16,182.84L94.85,180.27L91.55,177.71L88.25,175.15L84.97,172.61L81.69,170.06L78.40,167.51L75.11,164.96L71.83,162.42L68.54,159.91L65.24,157.40L61.94,154.89L58.62,152.36L55.30,149.74L52.02,147.03L48.79,144.35L47.07,142.96L45.50,141.75L44.04,140.71L42.66,139.87L41.34,139.21L40.01,138.71L38.60,138.37L36.95,138.20L35.23,138.27L33.44,138.43L31.67,138.67L29.93,138.99L28.20,139.36L26.47,139.80L24.75,140.28L23.01,140.81L21.26,141.37L19.48,141.96Z" fill="#bb0d0b"/>
<path d="M16.97,134.38L18.78,133.78L20.63,133.19L22.50,132.62L24.42,132.08L26.37,131.58L28.38,131.15L30.43,130.78L32.54,130.49L34.72,130.30L37.04,130.21L39.56,130.31L41.98,130.70L44.27,131.35L46.42,132.23L48.46,133.29L50.42,134.48L52.33,135.77L54.25,137.14L57.68,139.61L61.08,142.05L64.45,144.45L67.82,146.83L71.20,149.23L74.59,151.63L77.98,154.03L81.38,156.45L84.78,158.86L88.17,161.27L91.57,163.69L94.97,166.14L98.35,168.61L101.73,171.08L105.11,173.54L108.49,176.01L111.86,178.47L115.22,180.91L118.59,183.35L121.96,185.80L125.33,188.25L128.69,190.69L132.06,193.14L135.42,195.58L138.77,198.01L142.11,200.43L145.46,202.87L148.81,205.30L152.16,207.72L155.50,210.12L158.86,212.51L162.21,214.91L165.57,217.30L168.92,219.69L172.28,222.08L175.63,224.47L178.99,226.87L182.34,229.26L185.70,231.65L189.00,234.00L190.53,234.99L192.27,236.17L194.02,237.47L195.75,238.92L197.41,240.57L198.94,242.44L200.27,244.59L201.31,247.01L201.96,249.67L202.17,252.79L201.70,255.39L201.33,257.27L200.95,259.14L200.58,261.02L188.24,258.55L188.62,256.67L188.99,254.80L189.37,252.92L189.61,252.09L189.52,251.67L189.35,251.04L189.08,250.46L188.67,249.84L188.07,249.13L187.24,248.33L186.20,247.48L184.95,246.58L183.53,245.64L181.72,244.48L178.29,241.98L174.95,239.57L171.61,237.16L168.27,234.75L164.93,232.34L161.58,229.93L158.24,227.52L154.90,225.11L151.55,222.68L148.21,220.25L144.86,217.81L141.50,215.37L138.15,212.94L134.80,210.51L131.44,208.06L128.08,205.57L124.75,203.05L121.42,200.55L118.10,198.04L114.78,195.53L111.45,193.02L108.12,190.51L104.79,187.97L101.47,185.40L98.16,182.84L94.85,180.27L91.55,177.71L88.25,175.15L84.97,172.61L81.69,170.06L78.40,167.51L75.11,164.96L71.83,162.42L68.54,159.91L65.24,157.40L61.94,154.89L58.62,152.36L55.30,149.74L52.02,147.03L48.79,144.35L47.07,142.96L45.50,141.75L44.04,140.71L42.66,139.87L41.34,139.21L40.01,138.71L38.60,138.37L36.95,138.20L35.23,138.27L33.44,138.43L31.67,138.67L29.93,138.99L28.20,139.36L26.47,139.80L24.75,140.28L23.01,140.81L21.26,141.37L19.48,141.96Z" fill="#b80a0a"/>
<path d="M17.26,135.27L19.07,134.67L20.91,134.08L22.77,133.52L24.66,132.99L26.59,132.50L28.56,132.07L30.58,131.71L32.65,131.43L34.78,131.24L37.03,131.15L39.44,131.26L41.75,131.64L43.93,132.28L45.98,133.13L47.94,134.16L49.84,135.33L51.71,136.62L53.61,137.99L57.01,140.48L60.40,142.95L63.76,145.38L67.13,147.78L70.50,150.19L73.88,152.60L77.26,155.02L80.64,157.45L84.03,159.88L87.41,162.31L90.79,164.74L94.18,167.20L97.55,169.68L100.92,172.16L104.29,174.64L107.67,177.11L111.03,179.59L114.39,182.04L117.75,184.49L121.11,186.95L124.48,189.40L127.84,191.85L131.20,194.31L134.56,196.76L137.91,199.19L141.25,201.62L144.60,204.05L147.95,206.48L151.30,208.91L154.64,211.31L158.00,213.71L161.35,216.11L164.70,218.50L168.06,220.89L171.41,223.29L174.77,225.68L178.12,228.08L181.47,230.47L184.83,232.87L188.14,235.24L189.70,236.24L191.41,237.40L193.10,238.65L194.75,240.03L196.31,241.57L197.73,243.31L198.95,245.28L199.90,247.49L200.50,249.91L200.69,252.71L200.25,255.10L199.88,256.98L199.50,258.85L199.13,260.73L188.24,258.55L188.62,256.67L188.99,254.80L189.37,252.92L189.61,252.09L189.52,251.67L189.35,251.04L189.08,250.46L188.67,249.84L188.07,249.13L187.24,248.33L186.20,247.48L184.95,246.58L183.53,245.64L181.72,244.48L178.29,241.98L174.95,239.57L171.61,237.16L168.27,234.75L164.93,232.34L161.58,229.93L158.24,227.52L154.90,225.11L151.55,222.68L148.21,220.25L144.86,217.81L141.50,215.37L138.15,212.94L134.80,210.51L131.44,208.06L128.08,205.57L124.75,203.05L121.42,200.55L118.10,198.04L114.78,195.53L111.45,193.02L108.12,190.51L104.79,187.97L101.47,185.40L98.16,182.84L94.85,180.27L91.55,177.71L88.25,175.15L84.97,172.61L81.69,170.06L78.40,167.51L75.11,164.96L71.83,162.42L68.54,159.91L65.24,157.40L61.94,154.89L58.62,152.36L55.30,149.74L52.02,147.03L48.79,144.35L47.07,142.96L45.50,141.75L44.04,140.71L42.66,139.87L41.34,139.21L40.01,138.71L38.60,138.37L36.95,138.20L35.23,138.27L33.44,138.43L31.67,138.67L29.93,138.99L28.20,139.36L26.47,139.80L24.75,140.28L23.01,140.81L21.26,141.37L19.48,141.96Z" fill="#ac0606"/>
<path d="M17.56,136.16L19.36,135.56L21.19,134.98L23.03,134.42L24.90,133.89L26.80,133.41L28.74,132.99L30.72,132.64L32.75,132.36L34.84,132.18L37.02,132.09L39.33,132.20L41.52,132.58L43.58,133.20L45.54,134.03L47.42,135.03L49.26,136.19L51.09,137.46L52.96,138.84L56.35,141.35L59.72,143.86L63.08,146.31L66.44,148.73L69.80,151.15L73.17,153.58L76.54,156.01L79.91,158.45L83.28,160.90L86.64,163.34L90.02,165.79L93.39,168.26L96.75,170.75L100.11,173.24L103.48,175.73L106.84,178.22L110.20,180.70L113.55,183.17L116.91,185.63L120.27,188.09L123.63,190.55L126.98,193.01L130.34,195.47L133.70,197.93L137.04,200.38L140.39,202.80L143.74,205.24L147.09,207.67L150.44,210.10L153.79,212.50L157.14,214.91L160.49,217.31L163.84,219.70L167.19,222.10L170.55,224.50L173.90,226.89L177.25,229.29L180.60,231.68L183.96,234.08L187.28,236.47L188.88,237.49L190.55,238.62L192.18,239.83L193.75,241.14L195.21,242.58L196.52,244.18L197.64,245.97L198.49,247.96L199.04,250.14L199.22,252.62L198.80,254.81L198.43,256.69L198.05,258.56L197.68,260.44L188.24,258.55L188.62,256.67L188.99,254.80L189.37,252.92L189.61,252.09L189.52,251.67L189.35,251.04L189.08,250.46L188.67,249.84L188.07,249.13L187.24,248.33L186.20,247.48L184.95,246.58L183.53,245.64L181.72,244.48L178.29,241.98L174.95,239.57L171.61,237.16L168.27,234.75L164.93,232.34L161.58,229.93L158.24,227.52L154.90,225.11L151.55,222.68L148.21,220.25L144.86,217.81L141.50,215.37L138.15,212.94L134.80,210.51L131.44,208.06L128.08,205.57L124.75,203.05L121.42,200.55L118.10,198.04L114.78,195.53L111.45,193.02L108.12,190.51L104.79,187.97L101.47,185.40L98.16,182.84L94.85,180.27L91.55,177.71L88.25,175.15L84.97,172.61L81.69,170.06L78.40,167.51L75.11,164.96L71.83,162.42L68.54,159.91L65.24,157.40L61.94,154.89L58.62,152.36L55.30,149.74L52.02,147.03L48.79,144.35L47.07,142.96L45.50,141.75L44.04,140.71L42.66,139.87L41.34,139.21L40.01,138.71L38.60,138.37L36.95,138.20L35.23,138.27L33.44,138.43L31.67,138.67L29.93,138.99L28.20,139.36L26.47,139.80L24.75,140.28L23.01,140.81L21.26,141.37L19.48,141.96Z" fill="#a30303"/>
<path d="M17.85,137.05L19.66,136.46L21.47,135.88L23.30,135.32L25.14,134.80L27.02,134.33L28.92,133.91L30.87,133.57L32.86,133.30L34.90,133.11L37.01,133.03L39.22,133.15L41.29,133.53L43.24,134.12L45.10,134.93L46.90,135.91L48.68,137.04L50.48,138.31L52.32,139.69L55.68,142.23L59.04,144.76L62.39,147.24L65.75,149.68L69.10,152.11L72.46,154.55L75.81,156.99L79.17,159.45L82.53,161.91L85.88,164.37L89.24,166.84L92.60,169.32L95.95,171.82L99.30,174.32L102.66,176.82L106.01,179.32L109.37,181.82L112.72,184.30L116.07,186.77L119.42,189.24L122.78,191.70L126.13,194.17L129.48,196.64L132.83,199.11L136.18,201.56L139.53,203.99L142.88,206.42L146.23,208.85L149.58,211.28L152.93,213.70L156.28,216.10L159.63,218.51L162.98,220.91L166.33,223.30L169.68,225.70L173.03,228.10L176.38,230.50L179.73,232.90L183.09,235.30L186.43,237.70L188.06,238.75L189.69,239.85L191.26,241.01L192.75,242.24L194.11,243.59L195.32,245.05L196.32,246.66L197.09,248.43L197.57,250.38L197.74,252.54L197.35,254.52L196.98,256.40L196.60,258.27L196.23,260.15L188.24,258.55L188.62,256.67L188.99,254.80L189.37,252.92L189.61,252.09L189.52,251.67L189.35,251.04L189.08,250.46L188.67,249.84L188.07,249.13L187.24,248.33L186.20,247.48L184.95,246.58L183.53,245.64L181.72,244.48L178.29,241.98L174.95,239.57L171.61,237.16L168.27,234.75L164.93,232.34L161.58,229.93L158.24,227.52L154.90,225.11L151.55,222.68L148.21,220.25L144.86,217.81L141.50,215.37L138.15,212.94L134.80,210.51L131.44,208.06L128.08,205.57L124.75,203.05L121.42,200.55L118.10,198.04L114.78,195.53L111.45,193.02L108.12,190.51L104.79,187.97L101.47,185.40L98.16,182.84L94.85,180.27L91.55,177.71L88.25,175.15L84.97,172.61L81.69,170.06L78.40,167.51L75.11,164.96L71.83,162.42L68.54,159.91L65.24,157.40L61.94,154.89L58.62,152.36L55.30,149.74L52.02,147.03L48.79,144.35L47.07,142.96L45.50,141.75L44.04,140.71L42.66,139.87L41.34,139.21L40.01,138.71L38.60,138.37L36.95,138.20L35.23,138.27L33.44,138.43L31.67,138.67L29.93,138.99L28.20,139.36L26.47,139.80L24.75,140.28L23.01,140.81L21.26,141.37L19.48,141.96Z" fill="#9c0000"/>
<path d="M18.15,137.95L19.95,137.35L21.75,136.77L23.56,136.22L25.39,135.71L27.23,135.25L29.11,134.84L31.02,134.49L32.96,134.23L34.96,134.05L36.99,133.97L39.11,134.10L41.06,134.47L42.89,135.05L44.65,135.83L46.38,136.78L48.10,137.90L49.86,139.16L51.68,140.53L55.02,143.10L58.36,145.67L61.71,148.17L65.05,150.62L68.40,153.07L71.74,155.53L75.09,157.98L78.43,160.45L81.77,162.93L85.12,165.41L88.46,167.88L91.80,170.38L95.15,172.89L98.50,175.41L101.84,177.92L105.19,180.43L108.53,182.94L111.88,185.43L115.23,187.90L118.58,190.38L121.92,192.86L125.27,195.33L128.62,197.81L131.97,200.28L135.32,202.74L138.67,205.17L142.02,207.61L145.37,210.04L148.72,212.47L152.07,214.89L155.42,217.30L158.77,219.71L162.12,222.11L165.47,224.51L168.82,226.91L172.17,229.31L175.52,231.71L178.87,234.11L182.21,236.51L185.57,238.93L187.23,240.00L188.83,241.07L190.34,242.18L191.75,243.35L193.01,244.59L194.11,245.92L195.01,247.35L195.68,248.91L196.11,250.61L196.26,252.46L195.90,254.23L195.52,256.10L195.15,257.98L194.77,259.85L188.24,258.55L188.62,256.67L188.99,254.80L189.37,252.92L189.61,252.09L189.52,251.67L189.35,251.04L189.08,250.46L188.67,249.84L188.07,249.13L187.24,248.33L186.20,247.48L184.95,246.58L183.53,245.64L181.72,244.48L178.29,241.98L174.95,239.57L171.61,237.16L168.27,234.75L164.93,232.34L161.58,229.93L158.24,227.52L154.90,225.11L151.55,222.68L148.21,220.25L144.86,217.81L141.50,215.37L138.15,212.94L134.80,210.51L131.44,208.06L128.08,205.57L124.75,203.05L121.42,200.55L118.10,198.04L114.78,195.53L111.45,193.02L108.12,190.51L104.79,187.97L101.47,185.40L98.16,182.84L94.85,180.27L91.55,177.71L88.25,175.15L84.97,172.61L81.69,170.06L78.40,167.51L75.11,164.96L71.83,162.42L68.54,159.91L65.24,157.40L61.94,154.89L58.62,152.36L55.30,149.74L52.02,147.03L48.79,144.35L47.07,142.96L45.50,141.75L44.04,140.71L42.66,139.87L41.34,139.21L40.01,138.71L38.60,138.37L36.95,138.20L35.23,138.27L33.44,138.43L31.67,138.67L29.93,138.99L28.20,139.36L26.47,139.80L24.75,140.28L23.01,140.81L21.26,141.37L19.48,141.96Z" fill="#970000"/>
<path d="M18.44,138.84L20.24,138.25L22.03,137.67L23.82,137.13L25.63,136.62L27.45,136.16L29.29,135.76L31.16,135.42L33.07,135.16L35.02,134.99L36.98,134.91L38.99,135.05L40.82,135.41L42.55,135.97L44.21,136.72L45.86,137.66L47.52,138.75L49.24,140.00L51.04,141.38L54.35,143.97L57.68,146.58L61.02,149.10L64.36,151.57L67.70,154.03L71.03,156.50L74.36,158.97L77.69,161.46L81.02,163.95L84.36,166.44L87.68,168.93L91.01,171.44L94.35,173.96L97.69,176.49L101.02,179.01L104.36,181.53L107.70,184.06L111.05,186.56L114.39,189.04L117.73,191.52L121.07,194.01L124.42,196.49L127.76,198.97L131.10,201.46L134.46,203.92L137.81,206.36L141.16,208.79L144.51,211.22L147.86,213.66L151.21,216.08L154.56,218.49L157.91,220.91L161.26,223.31L164.61,225.71L167.95,228.12L171.30,230.52L174.65,232.92L178.00,235.33L181.34,237.73L184.72,240.17L186.41,241.25L187.96,242.29L189.42,243.36L190.75,244.46L191.91,245.60L192.90,246.79L193.69,248.04L194.27,249.38L194.65,250.85L194.78,252.38L194.45,253.94L194.07,255.81L193.70,257.69L193.32,259.56L188.24,258.55L188.62,256.67L188.99,254.80L189.37,252.92L189.61,252.09L189.52,251.67L189.35,251.04L189.08,250.46L188.67,249.84L188.07,249.13L187.24,248.33L186.20,247.48L184.95,246.58L183.53,245.64L181.72,244.48L178.29,241.98L174.95,239.57L171.61,237.16L168.27,234.75L164.93,232.34L161.58,229.93L158.24,227.52L154.90,225.11L151.55,222.68L148.21,220.25L144.86,217.81L141.50,215.37L138.15,212.94L134.80,210.51L131.44,208.06L128.08,205.57L124.75,203.05L121.42,200.55L118.10,198.04L114.78,195.53L111.45,193.02L108.12,190.51L104.79,187.97L101.47,185.40L98.16,182.84L94.85,180.27L91.55,177.71L88.25,175.15L84.97,172.61L81.69,170.06L78.40,167.51L75.11,164.96L71.83,162.42L68.54,159.91L65.24,157.40L61.94,154.89L58.62,152.36L55.30,149.74L52.02,147.03L48.79,144.35L47.07,142.96L45.50,141.75L44.04,140.71L42.66,139.87L41.34,139.21L40.01,138.71L38.60,138.37L36.95,138.20L35.23,138.27L33.44,138.43L31.67,138.67L29.93,138.99L28.20,139.36L26.47,139.80L24.75,140.28L23.01,140.81L21.26,141.37L19.48,141.96Z" fill="#920000"/>
<path d="M18.74,139.73L20.53,139.14L22.31,138.57L24.09,138.03L25.87,137.53L27.66,137.08L29.47,136.68L31.31,136.35L33.17,136.10L35.08,135.93L36.97,135.85L38.88,136.00L40.59,136.35L42.20,136.90L43.77,137.62L45.34,138.53L46.94,139.61L48.62,140.85L50.39,142.23L53.69,144.85L57.00,147.48L60.34,150.03L63.67,152.52L67.00,155.00L70.32,157.47L73.64,159.95L76.96,162.46L80.27,164.97L83.59,167.48L86.91,169.98L90.22,172.50L93.55,175.03L96.88,177.57L100.21,180.10L103.53,182.64L106.87,185.18L110.21,187.69L113.55,190.18L116.89,192.67L120.22,195.16L123.56,197.65L126.90,200.14L130.24,202.63L133.59,205.11L136.95,207.54L140.30,209.98L143.65,212.41L147.00,214.85L150.36,217.27L153.70,219.69L157.05,222.11L160.40,224.51L163.74,226.92L167.09,229.32L170.43,231.73L173.78,234.14L177.13,236.54L180.47,238.94L183.86,241.40L185.59,242.50L187.10,243.52L188.50,244.54L189.75,245.57L190.82,246.61L191.69,247.66L192.37,248.74L192.87,249.86L193.18,251.08L193.31,252.29L193.00,253.65L192.62,255.52L192.25,257.40L191.87,259.27L188.24,258.55L188.62,256.67L188.99,254.80L189.37,252.92L189.61,252.09L189.52,251.67L189.35,251.04L189.08,250.46L188.67,249.84L188.07,249.13L187.24,248.33L186.20,247.48L184.95,246.58L183.53,245.64L181.72,244.48L178.29,241.98L174.95,239.57L171.61,237.16L168.27,234.75L164.93,232.34L161.58,229.93L158.24,227.52L154.90,225.11L151.55,222.68L148.21,220.25L144.86,217.81L141.50,215.37L138.15,212.94L134.80,210.51L131.44,208.06L128.08,205.57L124.75,203.05L121.42,200.55L118.10,198.04L114.78,195.53L111.45,193.02L108.12,190.51L104.79,187.97L101.47,185.40L98.16,182.84L94.85,180.27L91.55,177.71L88.25,175.15L84.97,172.61L81.69,170.06L78.40,167.51L75.11,164.96L71.83,162.42L68.54,159.91L65.24,157.40L61.94,154.89L58.62,152.36L55.30,149.74L52.02,147.03L48.79,144.35L47.07,142.96L45.50,141.75L44.04,140.71L42.66,139.87L41.34,139.21L40.01,138.71L38.60,138.37L36.95,138.20L35.23,138.27L33.44,138.43L31.67,138.67L29.93,138.99L28.20,139.36L26.47,139.80L24.75,140.28L23.01,140.81L21.26,141.37L19.48,141.96Z" fill="#8c0000"/>
<path d="M18.96,140.40L20.75,139.81L22.52,139.24L24.28,138.71L26.05,138.21L27.82,137.76L29.61,137.37L31.42,137.05L33.25,136.80L35.12,136.63L36.97,136.55L38.79,136.71L40.42,137.06L41.95,137.59L43.44,138.30L44.95,139.19L46.51,140.25L48.15,141.48L49.91,142.87L53.19,145.50L56.49,148.16L59.82,150.73L63.15,153.23L66.47,155.72L69.79,158.20L73.10,160.69L76.40,163.21L79.71,165.73L83.02,168.25L86.33,170.77L89.63,173.30L92.95,175.84L96.27,178.38L99.59,180.92L102.91,183.47L106.24,186.02L109.59,188.54L112.92,191.03L116.25,193.53L119.59,196.02L122.92,198.52L126.25,201.01L129.59,203.51L132.95,205.99L136.30,208.43L139.65,210.87L143.00,213.30L146.36,215.74L149.71,218.17L153.06,220.59L156.40,223.01L159.75,225.42L163.09,227.82L166.44,230.23L169.78,232.64L173.13,235.04L176.47,237.45L179.81,239.85L183.22,242.33L184.97,243.44L186.46,244.44L187.81,245.42L189.00,246.40L189.99,247.36L190.79,248.31L191.39,249.25L191.81,250.21L192.08,251.26L192.20,252.23L191.91,253.43L191.53,255.31L191.16,257.18L190.78,259.06L188.24,258.55L188.62,256.67L188.99,254.80L189.37,252.92L189.61,252.09L189.52,251.67L189.35,251.04L189.08,250.46L188.67,249.84L188.07,249.13L187.24,248.33L186.20,247.48L184.95,246.58L183.53,245.64L181.72,244.48L178.29,241.98L174.95,239.57L171.61,237.16L168.27,234.75L164.93,232.34L161.58,229.93L158.24,227.52L154.90,225.11L151.55,222.68L148.21,220.25L144.86,217.81L141.50,215.37L138.15,212.94L134.80,210.51L131.44,208.06L128.08,205.57L124.75,203.05L121.42,200.55L118.10,198.04L114.78,195.53L111.45,193.02L108.12,190.51L104.79,187.97L101.47,185.40L98.16,182.84L94.85,180.27L91.55,177.71L88.25,175.15L84.97,172.61L81.69,170.06L78.40,167.51L75.11,164.96L71.83,162.42L68.54,159.91L65.24,157.40L61.94,154.89L58.62,152.36L55.30,149.74L52.02,147.03L48.79,144.35L47.07,142.96L45.50,141.75L44.04,140.71L42.66,139.87L41.34,139.21L40.01,138.71L38.60,138.37L36.95,138.20L35.23,138.27L33.44,138.43L31.67,138.67L29.93,138.99L28.20,139.36L26.47,139.80L24.75,140.28L23.01,140.81L21.26,141.37L19.48,141.96Z" fill="#840000"/>
<path d="M19.18,141.07L20.96,140.48L22.73,139.91L24.48,139.38L26.23,138.89L27.99,138.45L29.75,138.06L31.53,137.74L33.33,137.50L35.17,137.33L36.96,137.26L38.71,137.42L40.24,137.77L41.69,138.28L43.11,138.97L44.56,139.84L46.07,140.89L47.69,142.12L49.43,143.50L52.69,146.16L55.98,148.84L59.31,151.43L62.63,153.94L65.95,156.44L69.25,158.93L72.56,161.43L75.85,163.96L79.15,166.49L82.45,169.03L85.74,171.56L89.04,174.09L92.35,176.64L95.66,179.19L98.98,181.74L102.29,184.30L105.62,186.85L108.96,189.38L112.29,191.89L115.62,194.39L118.95,196.89L122.28,199.39L125.61,201.89L128.94,204.39L132.30,206.88L135.66,209.32L139.01,211.75L142.36,214.19L145.72,216.63L149.07,219.06L152.41,221.48L155.76,223.91L159.10,226.32L162.45,228.73L165.79,231.14L169.13,233.54L172.48,235.95L175.82,238.36L179.16,240.76L182.58,243.25L184.35,244.38L185.81,245.35L187.12,246.30L188.24,247.23L189.17,248.12L189.88,248.97L190.40,249.77L190.76,250.57L190.99,251.44L191.09,252.17L190.82,253.21L190.44,255.09L190.07,256.96L189.69,258.84L188.24,258.55L188.62,256.67L188.99,254.80L189.37,252.92L189.61,252.09L189.52,251.67L189.35,251.04L189.08,250.46L188.67,249.84L188.07,249.13L187.24,248.33L186.20,247.48L184.95,246.58L183.53,245.64L181.72,244.48L178.29,241.98L174.95,239.57L171.61,237.16L168.27,234.75L164.93,232.34L161.58,229.93L158.24,227.52L154.90,225.11L151.55,222.68L148.21,220.25L144.86,217.81L141.50,215.37L138.15,212.94L134.80,210.51L131.44,208.06L128.08,205.57L124.75,203.05L121.42,200.55L118.10,198.04L114.78,195.53L111.45,193.02L108.12,190.51L104.79,187.97L101.47,185.40L98.16,182.84L94.85,180.27L91.55,177.71L88.25,175.15L84.97,172.61L81.69,170.06L78.40,167.51L75.11,164.96L71.83,162.42L68.54,159.91L65.24,157.40L61.94,154.89L58.62,152.36L55.30,149.74L52.02,147.03L48.79,144.35L47.07,142.96L45.50,141.75L44.04,140.71L42.66,139.87L41.34,139.21L40.01,138.71L38.60,138.37L36.95,138.20L35.23,138.27L33.44,138.43L31.67,138.67L29.93,138.99L28.20,139.36L26.47,139.80L24.75,140.28L23.01,140.81L21.26,141.37L19.48,141.96Z" fill="#7e0000"/>
<path d="M19.33,141.52L21.11,140.93L22.87,140.36L24.61,139.83L26.35,139.34L28.09,138.91L29.84,138.52L31.60,138.21L33.38,137.97L35.20,137.80L36.95,137.73L38.65,137.90L40.13,138.24L41.52,138.75L42.89,139.42L44.30,140.28L45.79,141.32L47.38,142.54L49.11,143.92L52.35,146.59L55.64,149.29L58.97,151.89L62.29,154.41L65.59,156.92L68.90,159.42L72.19,161.92L75.48,164.46L78.77,167.00L82.07,169.55L85.35,172.08L88.64,174.62L91.95,177.17L95.26,179.73L98.57,182.29L101.88,184.85L105.20,187.41L108.54,189.95L111.87,192.46L115.20,194.96L118.52,197.46L121.85,199.97L125.18,202.47L128.51,204.98L131.87,207.47L135.23,209.91L138.58,212.35L141.93,214.78L145.29,217.22L148.64,219.65L151.98,222.08L155.33,224.51L158.67,226.92L162.02,229.33L165.36,231.74L168.70,234.15L172.04,236.56L175.39,238.97L178.72,241.37L182.15,243.87L183.94,245.01L185.38,245.97L186.66,246.89L187.74,247.78L188.62,248.62L189.28,249.40L189.74,250.12L190.06,250.81L190.26,251.56L190.35,252.13L190.09,253.07L189.72,254.94L189.34,256.82L188.97,258.69L188.24,258.55L188.62,256.67L188.99,254.80L189.37,252.92L189.61,252.09L189.52,251.67L189.35,251.04L189.08,250.46L188.67,249.84L188.07,249.13L187.24,248.33L186.20,247.48L184.95,246.58L183.53,245.64L181.72,244.48L178.29,241.98L174.95,239.57L171.61,237.16L168.27,234.75L164.93,232.34L161.58,229.93L158.24,227.52L154.90,225.11L151.55,222.68L148.21,220.25L144.86,217.81L141.50,215.37L138.15,212.94L134.80,210.51L131.44,208.06L128.08,205.57L124.75,203.05L121.42,200.55L118.10,198.04L114.78,195.53L111.45,193.02L108.12,190.51L104.79,187.97L101.47,185.40L98.16,182.84L94.85,180.27L91.55,177.71L88.25,175.15L84.97,172.61L81.69,170.06L78.40,167.51L75.11,164.96L71.83,162.42L68.54,159.91L65.24,157.40L61.94,154.89L58.62,152.36L55.30,149.74L52.02,147.03L48.79,144.35L47.07,142.96L45.50,141.75L44.04,140.71L42.66,139.87L41.34,139.21L40.01,138.71L38.60,138.37L36.95,138.20L35.23,138.27L33.44,138.43L31.67,138.67L29.93,138.99L28.20,139.36L26.47,139.80L24.75,140.28L23.01,140.81L21.26,141.37L19.48,141.96Z" fill="#6d0000"/>
<ellipse cx="192.5" cy="262.5" rx="5.5" ry="3.8" fill="#b80c0c"/>
<path d="M14.9,138 V125 Q14.9,121.8 18.1,121.8 Q21.3,121.8 21.3,125 V138 Q18,140 14.9,138 Z" fill="url(#str)"/>
<path d="M112.6,144.9 L161,177.6" stroke="#000" stroke-width="1.3" fill="none"/>
<path d="M167.9,181.8 L158.1,179.9 L162.2,174.1 Z" fill="#000"/>
<text class="lib" font-weight="bold" font-size="13.3px" transform="translate(132.3,150.6) rotate(33.5)" fill="#000" stroke="#000" stroke-width="0.3">Flow</text>
<g stroke-width="1.8" fill="none">
<path d="M120.3,258.6 L120.4,245" stroke="#1414e6"/><path d="M120.1,258.5 L129.2,247.4" stroke="#f01818"/><path d="M120.1,258 L131.2,265.9" stroke="#28e644"/></g>
<path d="M120.4,239.4 L123.4,246.2 L117.4,246.2 Z" fill="#1414e6"/>
<path d="M133.0,242.7 L131.3,249.8 L126.5,245.8 Z" fill="#f01818"/>
<path d="M136.1,269.4 L128.9,268.3 L132.5,263.1 Z" fill="#28e644"/>
<g class="lib" font-weight="bold" font-size="9.8px" fill="#000" stroke="#000" stroke-width="0.2"><text x="118.5" y="237">z</text><text x="134" y="245">x</text><text x="137.4" y="270.4">y</text></g>
</svg></body></html>
